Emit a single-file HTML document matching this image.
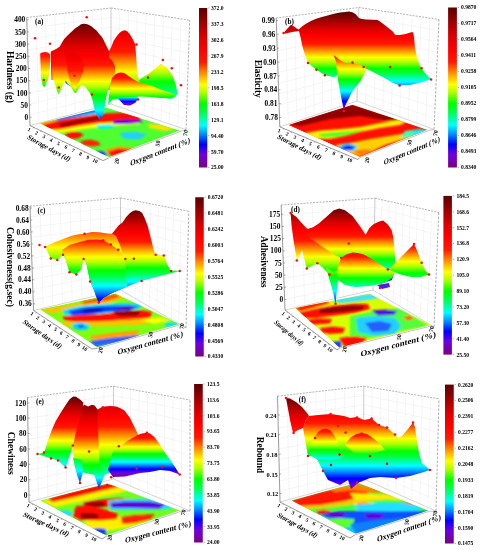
<!DOCTYPE html>
<html><head><meta charset="utf-8"><style>html,body{margin:0;padding:0;background:#fff;width:480px;height:550px;overflow:hidden}svg{display:block}</style></head>
<body><svg width="480" height="550" viewBox="0 0 480 550" style="font-family:'Liberation Serif','Times New Roman',serif;font-weight:bold">
<defs><filter id="blur" x="-20%" y="-20%" width="140%" height="140%"><feGaussianBlur stdDeviation="0.9"/></filter><clipPath id="ca"><polygon points="39.7,123.3 108.8,157.2 180.0,130.5 106.0,107.5"/></clipPath><linearGradient id="g1" gradientUnits="userSpaceOnUse" x1="0" y1="20.0" x2="0" y2="110.0"><stop offset="0.000" stop-color="#5a0000"/><stop offset="0.080" stop-color="#960000"/><stop offset="0.180" stop-color="#dc0000"/><stop offset="0.260" stop-color="#ff0000"/><stop offset="0.340" stop-color="#ff1a00"/><stop offset="0.400" stop-color="#ff8000"/><stop offset="0.445" stop-color="#ffc800"/><stop offset="0.480" stop-color="#ffff00"/><stop offset="0.530" stop-color="#b0ff00"/><stop offset="0.600" stop-color="#00ff00"/><stop offset="0.650" stop-color="#00ff40"/><stop offset="0.700" stop-color="#00ffb0"/><stop offset="0.735" stop-color="#00ffff"/><stop offset="0.790" stop-color="#0090ff"/><stop offset="0.825" stop-color="#0040ff"/><stop offset="0.855" stop-color="#0000ff"/><stop offset="0.920" stop-color="#7000e0"/><stop offset="1.000" stop-color="#7a0080"/></linearGradient><linearGradient id="g2" gradientUnits="userSpaceOnUse" x1="0" y1="5.6" x2="0" y2="132.5"><stop offset="0.000" stop-color="#5a0000"/><stop offset="0.080" stop-color="#960000"/><stop offset="0.180" stop-color="#dc0000"/><stop offset="0.260" stop-color="#ff0000"/><stop offset="0.340" stop-color="#ff1a00"/><stop offset="0.400" stop-color="#ff8000"/><stop offset="0.445" stop-color="#ffc800"/><stop offset="0.480" stop-color="#ffff00"/><stop offset="0.530" stop-color="#b0ff00"/><stop offset="0.600" stop-color="#00ff00"/><stop offset="0.650" stop-color="#00ff40"/><stop offset="0.700" stop-color="#00ffb0"/><stop offset="0.735" stop-color="#00ffff"/><stop offset="0.790" stop-color="#0090ff"/><stop offset="0.825" stop-color="#0040ff"/><stop offset="0.855" stop-color="#0000ff"/><stop offset="0.920" stop-color="#7000e0"/><stop offset="1.000" stop-color="#7a0080"/></linearGradient><linearGradient id="g3" gradientUnits="userSpaceOnUse" x1="0" y1="3.4" x2="0" y2="146.3"><stop offset="0.000" stop-color="#5a0000"/><stop offset="0.080" stop-color="#960000"/><stop offset="0.180" stop-color="#dc0000"/><stop offset="0.260" stop-color="#ff0000"/><stop offset="0.340" stop-color="#ff1a00"/><stop offset="0.400" stop-color="#ff8000"/><stop offset="0.445" stop-color="#ffc800"/><stop offset="0.480" stop-color="#ffff00"/><stop offset="0.530" stop-color="#b0ff00"/><stop offset="0.600" stop-color="#00ff00"/><stop offset="0.650" stop-color="#00ff40"/><stop offset="0.700" stop-color="#00ffb0"/><stop offset="0.735" stop-color="#00ffff"/><stop offset="0.790" stop-color="#0090ff"/><stop offset="0.825" stop-color="#0040ff"/><stop offset="0.855" stop-color="#0000ff"/><stop offset="0.920" stop-color="#7000e0"/><stop offset="1.000" stop-color="#7a0080"/></linearGradient><linearGradient id="g4" gradientUnits="userSpaceOnUse" x1="0" y1="21.3" x2="0" y2="156.1"><stop offset="0.000" stop-color="#5a0000"/><stop offset="0.080" stop-color="#960000"/><stop offset="0.180" stop-color="#dc0000"/><stop offset="0.260" stop-color="#ff0000"/><stop offset="0.340" stop-color="#ff1a00"/><stop offset="0.400" stop-color="#ff8000"/><stop offset="0.445" stop-color="#ffc800"/><stop offset="0.480" stop-color="#ffff00"/><stop offset="0.530" stop-color="#b0ff00"/><stop offset="0.600" stop-color="#00ff00"/><stop offset="0.650" stop-color="#00ff40"/><stop offset="0.700" stop-color="#00ffb0"/><stop offset="0.735" stop-color="#00ffff"/><stop offset="0.790" stop-color="#0090ff"/><stop offset="0.825" stop-color="#0040ff"/><stop offset="0.855" stop-color="#0000ff"/><stop offset="0.920" stop-color="#7000e0"/><stop offset="1.000" stop-color="#7a0080"/></linearGradient><linearGradient id="g5" gradientUnits="userSpaceOnUse" x1="0" y1="69.7" x2="0" y2="106.9"><stop offset="0.000" stop-color="#5a0000"/><stop offset="0.080" stop-color="#960000"/><stop offset="0.180" stop-color="#dc0000"/><stop offset="0.260" stop-color="#ff0000"/><stop offset="0.340" stop-color="#ff1a00"/><stop offset="0.400" stop-color="#ff8000"/><stop offset="0.445" stop-color="#ffc800"/><stop offset="0.480" stop-color="#ffff00"/><stop offset="0.530" stop-color="#b0ff00"/><stop offset="0.600" stop-color="#00ff00"/><stop offset="0.650" stop-color="#00ff40"/><stop offset="0.700" stop-color="#00ffb0"/><stop offset="0.735" stop-color="#00ffff"/><stop offset="0.790" stop-color="#0090ff"/><stop offset="0.825" stop-color="#0040ff"/><stop offset="0.855" stop-color="#0000ff"/><stop offset="0.920" stop-color="#7000e0"/><stop offset="1.000" stop-color="#7a0080"/></linearGradient><linearGradient id="g6" gradientUnits="userSpaceOnUse" x1="0" y1="18.0" x2="0" y2="131.3"><stop offset="0.000" stop-color="#5a0000"/><stop offset="0.080" stop-color="#960000"/><stop offset="0.180" stop-color="#dc0000"/><stop offset="0.260" stop-color="#ff0000"/><stop offset="0.340" stop-color="#ff1a00"/><stop offset="0.400" stop-color="#ff8000"/><stop offset="0.445" stop-color="#ffc800"/><stop offset="0.480" stop-color="#ffff00"/><stop offset="0.530" stop-color="#b0ff00"/><stop offset="0.600" stop-color="#00ff00"/><stop offset="0.650" stop-color="#00ff40"/><stop offset="0.700" stop-color="#00ffb0"/><stop offset="0.735" stop-color="#00ffff"/><stop offset="0.790" stop-color="#0090ff"/><stop offset="0.825" stop-color="#0040ff"/><stop offset="0.855" stop-color="#0000ff"/><stop offset="0.920" stop-color="#7000e0"/><stop offset="1.000" stop-color="#7a0080"/></linearGradient><linearGradient id="g7" gradientUnits="userSpaceOnUse" x1="0" y1="26.5" x2="0" y2="140.5"><stop offset="0.000" stop-color="#5a0000"/><stop offset="0.080" stop-color="#960000"/><stop offset="0.180" stop-color="#dc0000"/><stop offset="0.260" stop-color="#ff0000"/><stop offset="0.340" stop-color="#ff1a00"/><stop offset="0.400" stop-color="#ff8000"/><stop offset="0.445" stop-color="#ffc800"/><stop offset="0.480" stop-color="#ffff00"/><stop offset="0.530" stop-color="#b0ff00"/><stop offset="0.600" stop-color="#00ff00"/><stop offset="0.650" stop-color="#00ff40"/><stop offset="0.700" stop-color="#00ffb0"/><stop offset="0.735" stop-color="#00ffff"/><stop offset="0.790" stop-color="#0090ff"/><stop offset="0.825" stop-color="#0040ff"/><stop offset="0.855" stop-color="#0000ff"/><stop offset="0.920" stop-color="#7000e0"/><stop offset="1.000" stop-color="#7a0080"/></linearGradient><linearGradient id="g8" gradientUnits="userSpaceOnUse" x1="0" y1="30.0" x2="0" y2="150.0"><stop offset="0.000" stop-color="#5a0000"/><stop offset="0.080" stop-color="#960000"/><stop offset="0.180" stop-color="#dc0000"/><stop offset="0.260" stop-color="#ff0000"/><stop offset="0.340" stop-color="#ff1a00"/><stop offset="0.400" stop-color="#ff8000"/><stop offset="0.445" stop-color="#ffc800"/><stop offset="0.480" stop-color="#ffff00"/><stop offset="0.530" stop-color="#b0ff00"/><stop offset="0.600" stop-color="#00ff00"/><stop offset="0.650" stop-color="#00ff40"/><stop offset="0.700" stop-color="#00ffb0"/><stop offset="0.735" stop-color="#00ffff"/><stop offset="0.790" stop-color="#0090ff"/><stop offset="0.825" stop-color="#0040ff"/><stop offset="0.855" stop-color="#0000ff"/><stop offset="0.920" stop-color="#7000e0"/><stop offset="1.000" stop-color="#7a0080"/></linearGradient><linearGradient id="g9" gradientUnits="userSpaceOnUse" x1="0" y1="53.7" x2="0" y2="126.1"><stop offset="0.000" stop-color="#5a0000"/><stop offset="0.080" stop-color="#960000"/><stop offset="0.180" stop-color="#dc0000"/><stop offset="0.260" stop-color="#ff0000"/><stop offset="0.340" stop-color="#ff1a00"/><stop offset="0.400" stop-color="#ff8000"/><stop offset="0.445" stop-color="#ffc800"/><stop offset="0.480" stop-color="#ffff00"/><stop offset="0.530" stop-color="#b0ff00"/><stop offset="0.600" stop-color="#00ff00"/><stop offset="0.650" stop-color="#00ff40"/><stop offset="0.700" stop-color="#00ffb0"/><stop offset="0.735" stop-color="#00ffff"/><stop offset="0.790" stop-color="#0090ff"/><stop offset="0.825" stop-color="#0040ff"/><stop offset="0.855" stop-color="#0000ff"/><stop offset="0.920" stop-color="#7000e0"/><stop offset="1.000" stop-color="#7a0080"/></linearGradient><linearGradient id="g10" gradientUnits="userSpaceOnUse" x1="0" y1="8.0" x2="0" y2="167.5"><stop offset="0.000" stop-color="#5a0000"/><stop offset="0.080" stop-color="#960000"/><stop offset="0.180" stop-color="#dc0000"/><stop offset="0.260" stop-color="#ff0000"/><stop offset="0.340" stop-color="#ff1a00"/><stop offset="0.400" stop-color="#ff8000"/><stop offset="0.445" stop-color="#ffc800"/><stop offset="0.480" stop-color="#ffff00"/><stop offset="0.530" stop-color="#b0ff00"/><stop offset="0.600" stop-color="#00ff00"/><stop offset="0.650" stop-color="#00ff40"/><stop offset="0.700" stop-color="#00ffb0"/><stop offset="0.735" stop-color="#00ffff"/><stop offset="0.790" stop-color="#0090ff"/><stop offset="0.825" stop-color="#0040ff"/><stop offset="0.855" stop-color="#0000ff"/><stop offset="0.920" stop-color="#7000e0"/><stop offset="1.000" stop-color="#7a0080"/></linearGradient><clipPath id="cb"><polygon points="288.1,125.0 359.8,156.9 427.5,129.8 352.5,104.8"/></clipPath><linearGradient id="g11" gradientUnits="userSpaceOnUse" x1="0" y1="20.0" x2="0" y2="110.0"><stop offset="0.000" stop-color="#5a0000"/><stop offset="0.080" stop-color="#960000"/><stop offset="0.180" stop-color="#dc0000"/><stop offset="0.260" stop-color="#ff0000"/><stop offset="0.340" stop-color="#ff1a00"/><stop offset="0.400" stop-color="#ff8000"/><stop offset="0.445" stop-color="#ffc800"/><stop offset="0.480" stop-color="#ffff00"/><stop offset="0.530" stop-color="#b0ff00"/><stop offset="0.600" stop-color="#00ff00"/><stop offset="0.650" stop-color="#00ff40"/><stop offset="0.700" stop-color="#00ffb0"/><stop offset="0.735" stop-color="#00ffff"/><stop offset="0.790" stop-color="#0090ff"/><stop offset="0.825" stop-color="#0040ff"/><stop offset="0.855" stop-color="#0000ff"/><stop offset="0.920" stop-color="#7000e0"/><stop offset="1.000" stop-color="#7a0080"/></linearGradient><linearGradient id="g12" gradientUnits="userSpaceOnUse" x1="0" y1="12.0" x2="0" y2="106.4"><stop offset="0.000" stop-color="#5a0000"/><stop offset="0.080" stop-color="#960000"/><stop offset="0.180" stop-color="#dc0000"/><stop offset="0.260" stop-color="#ff0000"/><stop offset="0.340" stop-color="#ff1a00"/><stop offset="0.400" stop-color="#ff8000"/><stop offset="0.445" stop-color="#ffc800"/><stop offset="0.480" stop-color="#ffff00"/><stop offset="0.530" stop-color="#b0ff00"/><stop offset="0.600" stop-color="#00ff00"/><stop offset="0.650" stop-color="#00ff40"/><stop offset="0.700" stop-color="#00ffb0"/><stop offset="0.735" stop-color="#00ffff"/><stop offset="0.790" stop-color="#0090ff"/><stop offset="0.825" stop-color="#0040ff"/><stop offset="0.855" stop-color="#0000ff"/><stop offset="0.920" stop-color="#7000e0"/><stop offset="1.000" stop-color="#7a0080"/></linearGradient><linearGradient id="g13" gradientUnits="userSpaceOnUse" x1="0" y1="12.0" x2="0" y2="125.0"><stop offset="0.000" stop-color="#5a0000"/><stop offset="0.080" stop-color="#960000"/><stop offset="0.180" stop-color="#dc0000"/><stop offset="0.260" stop-color="#ff0000"/><stop offset="0.340" stop-color="#ff1a00"/><stop offset="0.400" stop-color="#ff8000"/><stop offset="0.445" stop-color="#ffc800"/><stop offset="0.480" stop-color="#ffff00"/><stop offset="0.530" stop-color="#b0ff00"/><stop offset="0.600" stop-color="#00ff00"/><stop offset="0.650" stop-color="#00ff40"/><stop offset="0.700" stop-color="#00ffb0"/><stop offset="0.735" stop-color="#00ffff"/><stop offset="0.790" stop-color="#0090ff"/><stop offset="0.825" stop-color="#0040ff"/><stop offset="0.855" stop-color="#0000ff"/><stop offset="0.920" stop-color="#7000e0"/><stop offset="1.000" stop-color="#7a0080"/></linearGradient><linearGradient id="g14" gradientUnits="userSpaceOnUse" x1="0" y1="27.3" x2="0" y2="114.1"><stop offset="0.000" stop-color="#5a0000"/><stop offset="0.080" stop-color="#960000"/><stop offset="0.180" stop-color="#dc0000"/><stop offset="0.260" stop-color="#ff0000"/><stop offset="0.340" stop-color="#ff1a00"/><stop offset="0.400" stop-color="#ff8000"/><stop offset="0.445" stop-color="#ffc800"/><stop offset="0.480" stop-color="#ffff00"/><stop offset="0.530" stop-color="#b0ff00"/><stop offset="0.600" stop-color="#00ff00"/><stop offset="0.650" stop-color="#00ff40"/><stop offset="0.700" stop-color="#00ffb0"/><stop offset="0.735" stop-color="#00ffff"/><stop offset="0.790" stop-color="#0090ff"/><stop offset="0.825" stop-color="#0040ff"/><stop offset="0.855" stop-color="#0000ff"/><stop offset="0.920" stop-color="#7000e0"/><stop offset="1.000" stop-color="#7a0080"/></linearGradient><linearGradient id="g15" gradientUnits="userSpaceOnUse" x1="0" y1="7.5" x2="0" y2="167.5"><stop offset="0.000" stop-color="#5a0000"/><stop offset="0.080" stop-color="#960000"/><stop offset="0.180" stop-color="#dc0000"/><stop offset="0.260" stop-color="#ff0000"/><stop offset="0.340" stop-color="#ff1a00"/><stop offset="0.400" stop-color="#ff8000"/><stop offset="0.445" stop-color="#ffc800"/><stop offset="0.480" stop-color="#ffff00"/><stop offset="0.530" stop-color="#b0ff00"/><stop offset="0.600" stop-color="#00ff00"/><stop offset="0.650" stop-color="#00ff40"/><stop offset="0.700" stop-color="#00ffb0"/><stop offset="0.735" stop-color="#00ffff"/><stop offset="0.790" stop-color="#0090ff"/><stop offset="0.825" stop-color="#0040ff"/><stop offset="0.855" stop-color="#0000ff"/><stop offset="0.920" stop-color="#7000e0"/><stop offset="1.000" stop-color="#7a0080"/></linearGradient><clipPath id="cc"><polygon points="40.0,309.5 97.5,347.5 179.4,324.0 115.5,293.6"/></clipPath><linearGradient id="g16" gradientUnits="userSpaceOnUse" x1="0" y1="20.0" x2="0" y2="110.0"><stop offset="0.000" stop-color="#5a0000"/><stop offset="0.080" stop-color="#960000"/><stop offset="0.180" stop-color="#dc0000"/><stop offset="0.260" stop-color="#ff0000"/><stop offset="0.340" stop-color="#ff1a00"/><stop offset="0.400" stop-color="#ff8000"/><stop offset="0.445" stop-color="#ffc800"/><stop offset="0.480" stop-color="#ffff00"/><stop offset="0.530" stop-color="#b0ff00"/><stop offset="0.600" stop-color="#00ff00"/><stop offset="0.650" stop-color="#00ff40"/><stop offset="0.700" stop-color="#00ffb0"/><stop offset="0.735" stop-color="#00ffff"/><stop offset="0.790" stop-color="#0090ff"/><stop offset="0.825" stop-color="#0040ff"/><stop offset="0.855" stop-color="#0000ff"/><stop offset="0.920" stop-color="#7000e0"/><stop offset="1.000" stop-color="#7a0080"/></linearGradient><linearGradient id="g17" gradientUnits="userSpaceOnUse" x1="0" y1="208.0" x2="0" y2="308.0"><stop offset="0.000" stop-color="#5a0000"/><stop offset="0.080" stop-color="#960000"/><stop offset="0.180" stop-color="#dc0000"/><stop offset="0.260" stop-color="#ff0000"/><stop offset="0.340" stop-color="#ff1a00"/><stop offset="0.400" stop-color="#ff8000"/><stop offset="0.445" stop-color="#ffc800"/><stop offset="0.480" stop-color="#ffff00"/><stop offset="0.530" stop-color="#b0ff00"/><stop offset="0.600" stop-color="#00ff00"/><stop offset="0.650" stop-color="#00ff40"/><stop offset="0.700" stop-color="#00ffb0"/><stop offset="0.735" stop-color="#00ffff"/><stop offset="0.790" stop-color="#0090ff"/><stop offset="0.825" stop-color="#0040ff"/><stop offset="0.855" stop-color="#0000ff"/><stop offset="0.920" stop-color="#7000e0"/><stop offset="1.000" stop-color="#7a0080"/></linearGradient><linearGradient id="g18" gradientUnits="userSpaceOnUse" x1="0" y1="178.8" x2="0" y2="321.4"><stop offset="0.000" stop-color="#5a0000"/><stop offset="0.080" stop-color="#960000"/><stop offset="0.180" stop-color="#dc0000"/><stop offset="0.260" stop-color="#ff0000"/><stop offset="0.340" stop-color="#ff1a00"/><stop offset="0.400" stop-color="#ff8000"/><stop offset="0.445" stop-color="#ffc800"/><stop offset="0.480" stop-color="#ffff00"/><stop offset="0.530" stop-color="#b0ff00"/><stop offset="0.600" stop-color="#00ff00"/><stop offset="0.650" stop-color="#00ff40"/><stop offset="0.700" stop-color="#00ffb0"/><stop offset="0.735" stop-color="#00ffff"/><stop offset="0.790" stop-color="#0090ff"/><stop offset="0.825" stop-color="#0040ff"/><stop offset="0.855" stop-color="#0000ff"/><stop offset="0.920" stop-color="#7000e0"/><stop offset="1.000" stop-color="#7a0080"/></linearGradient><linearGradient id="g19" gradientUnits="userSpaceOnUse" x1="0" y1="202.6" x2="0" y2="315.8"><stop offset="0.000" stop-color="#5a0000"/><stop offset="0.080" stop-color="#960000"/><stop offset="0.180" stop-color="#dc0000"/><stop offset="0.260" stop-color="#ff0000"/><stop offset="0.340" stop-color="#ff1a00"/><stop offset="0.400" stop-color="#ff8000"/><stop offset="0.445" stop-color="#ffc800"/><stop offset="0.480" stop-color="#ffff00"/><stop offset="0.530" stop-color="#b0ff00"/><stop offset="0.600" stop-color="#00ff00"/><stop offset="0.650" stop-color="#00ff40"/><stop offset="0.700" stop-color="#00ffb0"/><stop offset="0.735" stop-color="#00ffff"/><stop offset="0.790" stop-color="#0090ff"/><stop offset="0.825" stop-color="#0040ff"/><stop offset="0.855" stop-color="#0000ff"/><stop offset="0.920" stop-color="#7000e0"/><stop offset="1.000" stop-color="#7a0080"/></linearGradient><linearGradient id="g20" gradientUnits="userSpaceOnUse" x1="0" y1="197.2" x2="0" y2="356.5"><stop offset="0.000" stop-color="#5a0000"/><stop offset="0.080" stop-color="#960000"/><stop offset="0.180" stop-color="#dc0000"/><stop offset="0.260" stop-color="#ff0000"/><stop offset="0.340" stop-color="#ff1a00"/><stop offset="0.400" stop-color="#ff8000"/><stop offset="0.445" stop-color="#ffc800"/><stop offset="0.480" stop-color="#ffff00"/><stop offset="0.530" stop-color="#b0ff00"/><stop offset="0.600" stop-color="#00ff00"/><stop offset="0.650" stop-color="#00ff40"/><stop offset="0.700" stop-color="#00ffb0"/><stop offset="0.735" stop-color="#00ffff"/><stop offset="0.790" stop-color="#0090ff"/><stop offset="0.825" stop-color="#0040ff"/><stop offset="0.855" stop-color="#0000ff"/><stop offset="0.920" stop-color="#7000e0"/><stop offset="1.000" stop-color="#7a0080"/></linearGradient><clipPath id="cd"><polygon points="295.0,308.0 339.4,347.5 431.0,325.0 369.2,293.6"/></clipPath><linearGradient id="g21" gradientUnits="userSpaceOnUse" x1="0" y1="20.0" x2="0" y2="110.0"><stop offset="0.000" stop-color="#5a0000"/><stop offset="0.080" stop-color="#960000"/><stop offset="0.180" stop-color="#dc0000"/><stop offset="0.260" stop-color="#ff0000"/><stop offset="0.340" stop-color="#ff1a00"/><stop offset="0.400" stop-color="#ff8000"/><stop offset="0.445" stop-color="#ffc800"/><stop offset="0.480" stop-color="#ffff00"/><stop offset="0.530" stop-color="#b0ff00"/><stop offset="0.600" stop-color="#00ff00"/><stop offset="0.650" stop-color="#00ff40"/><stop offset="0.700" stop-color="#00ffb0"/><stop offset="0.735" stop-color="#00ffff"/><stop offset="0.790" stop-color="#0090ff"/><stop offset="0.825" stop-color="#0040ff"/><stop offset="0.855" stop-color="#0000ff"/><stop offset="0.920" stop-color="#7000e0"/><stop offset="1.000" stop-color="#7a0080"/></linearGradient><linearGradient id="g22" gradientUnits="userSpaceOnUse" x1="0" y1="207.3" x2="0" y2="293.6"><stop offset="0.000" stop-color="#5a0000"/><stop offset="0.080" stop-color="#960000"/><stop offset="0.180" stop-color="#dc0000"/><stop offset="0.260" stop-color="#ff0000"/><stop offset="0.340" stop-color="#ff1a00"/><stop offset="0.400" stop-color="#ff8000"/><stop offset="0.445" stop-color="#ffc800"/><stop offset="0.480" stop-color="#ffff00"/><stop offset="0.530" stop-color="#b0ff00"/><stop offset="0.600" stop-color="#00ff00"/><stop offset="0.650" stop-color="#00ff40"/><stop offset="0.700" stop-color="#00ffb0"/><stop offset="0.735" stop-color="#00ffff"/><stop offset="0.790" stop-color="#0090ff"/><stop offset="0.825" stop-color="#0040ff"/><stop offset="0.855" stop-color="#0000ff"/><stop offset="0.920" stop-color="#7000e0"/><stop offset="1.000" stop-color="#7a0080"/></linearGradient><linearGradient id="g23" gradientUnits="userSpaceOnUse" x1="0" y1="214.9" x2="0" y2="311.8"><stop offset="0.000" stop-color="#5a0000"/><stop offset="0.080" stop-color="#960000"/><stop offset="0.180" stop-color="#dc0000"/><stop offset="0.260" stop-color="#ff0000"/><stop offset="0.340" stop-color="#ff1a00"/><stop offset="0.400" stop-color="#ff8000"/><stop offset="0.445" stop-color="#ffc800"/><stop offset="0.480" stop-color="#ffff00"/><stop offset="0.530" stop-color="#b0ff00"/><stop offset="0.600" stop-color="#00ff00"/><stop offset="0.650" stop-color="#00ff40"/><stop offset="0.700" stop-color="#00ffb0"/><stop offset="0.735" stop-color="#00ffff"/><stop offset="0.790" stop-color="#0090ff"/><stop offset="0.825" stop-color="#0040ff"/><stop offset="0.855" stop-color="#0000ff"/><stop offset="0.920" stop-color="#7000e0"/><stop offset="1.000" stop-color="#7a0080"/></linearGradient><linearGradient id="g24" gradientUnits="userSpaceOnUse" x1="0" y1="202.4" x2="0" y2="315.5"><stop offset="0.000" stop-color="#5a0000"/><stop offset="0.080" stop-color="#960000"/><stop offset="0.180" stop-color="#dc0000"/><stop offset="0.260" stop-color="#ff0000"/><stop offset="0.340" stop-color="#ff1a00"/><stop offset="0.400" stop-color="#ff8000"/><stop offset="0.445" stop-color="#ffc800"/><stop offset="0.480" stop-color="#ffff00"/><stop offset="0.530" stop-color="#b0ff00"/><stop offset="0.600" stop-color="#00ff00"/><stop offset="0.650" stop-color="#00ff40"/><stop offset="0.700" stop-color="#00ffb0"/><stop offset="0.735" stop-color="#00ffff"/><stop offset="0.790" stop-color="#0090ff"/><stop offset="0.825" stop-color="#0040ff"/><stop offset="0.855" stop-color="#0000ff"/><stop offset="0.920" stop-color="#7000e0"/><stop offset="1.000" stop-color="#7a0080"/></linearGradient><linearGradient id="g25" gradientUnits="userSpaceOnUse" x1="0" y1="207.4" x2="0" y2="321.2"><stop offset="0.000" stop-color="#5a0000"/><stop offset="0.080" stop-color="#960000"/><stop offset="0.180" stop-color="#dc0000"/><stop offset="0.260" stop-color="#ff0000"/><stop offset="0.340" stop-color="#ff1a00"/><stop offset="0.400" stop-color="#ff8000"/><stop offset="0.445" stop-color="#ffc800"/><stop offset="0.480" stop-color="#ffff00"/><stop offset="0.530" stop-color="#b0ff00"/><stop offset="0.600" stop-color="#00ff00"/><stop offset="0.650" stop-color="#00ff40"/><stop offset="0.700" stop-color="#00ffb0"/><stop offset="0.735" stop-color="#00ffff"/><stop offset="0.790" stop-color="#0090ff"/><stop offset="0.825" stop-color="#0040ff"/><stop offset="0.855" stop-color="#0000ff"/><stop offset="0.920" stop-color="#7000e0"/><stop offset="1.000" stop-color="#7a0080"/></linearGradient><linearGradient id="g26" gradientUnits="userSpaceOnUse" x1="0" y1="229.1" x2="0" y2="310.9"><stop offset="0.000" stop-color="#5a0000"/><stop offset="0.080" stop-color="#960000"/><stop offset="0.180" stop-color="#dc0000"/><stop offset="0.260" stop-color="#ff0000"/><stop offset="0.340" stop-color="#ff1a00"/><stop offset="0.400" stop-color="#ff8000"/><stop offset="0.445" stop-color="#ffc800"/><stop offset="0.480" stop-color="#ffff00"/><stop offset="0.530" stop-color="#b0ff00"/><stop offset="0.600" stop-color="#00ff00"/><stop offset="0.650" stop-color="#00ff40"/><stop offset="0.700" stop-color="#00ffb0"/><stop offset="0.735" stop-color="#00ffff"/><stop offset="0.790" stop-color="#0090ff"/><stop offset="0.825" stop-color="#0040ff"/><stop offset="0.855" stop-color="#0000ff"/><stop offset="0.920" stop-color="#7000e0"/><stop offset="1.000" stop-color="#7a0080"/></linearGradient><linearGradient id="g27" gradientUnits="userSpaceOnUse" x1="0" y1="195.9" x2="0" y2="354.6"><stop offset="0.000" stop-color="#5a0000"/><stop offset="0.080" stop-color="#960000"/><stop offset="0.180" stop-color="#dc0000"/><stop offset="0.260" stop-color="#ff0000"/><stop offset="0.340" stop-color="#ff1a00"/><stop offset="0.400" stop-color="#ff8000"/><stop offset="0.445" stop-color="#ffc800"/><stop offset="0.480" stop-color="#ffff00"/><stop offset="0.530" stop-color="#b0ff00"/><stop offset="0.600" stop-color="#00ff00"/><stop offset="0.650" stop-color="#00ff40"/><stop offset="0.700" stop-color="#00ffb0"/><stop offset="0.735" stop-color="#00ffff"/><stop offset="0.790" stop-color="#0090ff"/><stop offset="0.825" stop-color="#0040ff"/><stop offset="0.855" stop-color="#0000ff"/><stop offset="0.920" stop-color="#7000e0"/><stop offset="1.000" stop-color="#7a0080"/></linearGradient><clipPath id="ce"><polygon points="40.0,500.5 106.2,535.6 180.0,510.5 107.5,483.4"/></clipPath><linearGradient id="g28" gradientUnits="userSpaceOnUse" x1="0" y1="20.0" x2="0" y2="110.0"><stop offset="0.000" stop-color="#5a0000"/><stop offset="0.080" stop-color="#960000"/><stop offset="0.180" stop-color="#dc0000"/><stop offset="0.260" stop-color="#ff0000"/><stop offset="0.340" stop-color="#ff1a00"/><stop offset="0.400" stop-color="#ff8000"/><stop offset="0.445" stop-color="#ffc800"/><stop offset="0.480" stop-color="#ffff00"/><stop offset="0.530" stop-color="#b0ff00"/><stop offset="0.600" stop-color="#00ff00"/><stop offset="0.650" stop-color="#00ff40"/><stop offset="0.700" stop-color="#00ffb0"/><stop offset="0.735" stop-color="#00ffff"/><stop offset="0.790" stop-color="#0090ff"/><stop offset="0.825" stop-color="#0040ff"/><stop offset="0.855" stop-color="#0000ff"/><stop offset="0.920" stop-color="#7000e0"/><stop offset="1.000" stop-color="#7a0080"/></linearGradient><linearGradient id="g29" gradientUnits="userSpaceOnUse" x1="0" y1="382.9" x2="0" y2="511.4"><stop offset="0.000" stop-color="#5a0000"/><stop offset="0.080" stop-color="#960000"/><stop offset="0.180" stop-color="#dc0000"/><stop offset="0.260" stop-color="#ff0000"/><stop offset="0.340" stop-color="#ff1a00"/><stop offset="0.400" stop-color="#ff8000"/><stop offset="0.445" stop-color="#ffc800"/><stop offset="0.480" stop-color="#ffff00"/><stop offset="0.530" stop-color="#b0ff00"/><stop offset="0.600" stop-color="#00ff00"/><stop offset="0.650" stop-color="#00ff40"/><stop offset="0.700" stop-color="#00ffb0"/><stop offset="0.735" stop-color="#00ffff"/><stop offset="0.790" stop-color="#0090ff"/><stop offset="0.825" stop-color="#0040ff"/><stop offset="0.855" stop-color="#0000ff"/><stop offset="0.920" stop-color="#7000e0"/><stop offset="1.000" stop-color="#7a0080"/></linearGradient><linearGradient id="g30" gradientUnits="userSpaceOnUse" x1="0" y1="397.1" x2="0" y2="510.3"><stop offset="0.000" stop-color="#5a0000"/><stop offset="0.080" stop-color="#960000"/><stop offset="0.180" stop-color="#dc0000"/><stop offset="0.260" stop-color="#ff0000"/><stop offset="0.340" stop-color="#ff1a00"/><stop offset="0.400" stop-color="#ff8000"/><stop offset="0.445" stop-color="#ffc800"/><stop offset="0.480" stop-color="#ffff00"/><stop offset="0.530" stop-color="#b0ff00"/><stop offset="0.600" stop-color="#00ff00"/><stop offset="0.650" stop-color="#00ff40"/><stop offset="0.700" stop-color="#00ffb0"/><stop offset="0.735" stop-color="#00ffff"/><stop offset="0.790" stop-color="#0090ff"/><stop offset="0.825" stop-color="#0040ff"/><stop offset="0.855" stop-color="#0000ff"/><stop offset="0.920" stop-color="#7000e0"/><stop offset="1.000" stop-color="#7a0080"/></linearGradient><linearGradient id="g31" gradientUnits="userSpaceOnUse" x1="0" y1="385.0" x2="0" y2="501.7"><stop offset="0.000" stop-color="#5a0000"/><stop offset="0.080" stop-color="#960000"/><stop offset="0.180" stop-color="#dc0000"/><stop offset="0.260" stop-color="#ff0000"/><stop offset="0.340" stop-color="#ff1a00"/><stop offset="0.400" stop-color="#ff8000"/><stop offset="0.445" stop-color="#ffc800"/><stop offset="0.480" stop-color="#ffff00"/><stop offset="0.530" stop-color="#b0ff00"/><stop offset="0.600" stop-color="#00ff00"/><stop offset="0.650" stop-color="#00ff40"/><stop offset="0.700" stop-color="#00ffb0"/><stop offset="0.735" stop-color="#00ffff"/><stop offset="0.790" stop-color="#0090ff"/><stop offset="0.825" stop-color="#0040ff"/><stop offset="0.855" stop-color="#0000ff"/><stop offset="0.920" stop-color="#7000e0"/><stop offset="1.000" stop-color="#7a0080"/></linearGradient><linearGradient id="g32" gradientUnits="userSpaceOnUse" x1="0" y1="407.5" x2="0" y2="503.3"><stop offset="0.000" stop-color="#5a0000"/><stop offset="0.080" stop-color="#960000"/><stop offset="0.180" stop-color="#dc0000"/><stop offset="0.260" stop-color="#ff0000"/><stop offset="0.340" stop-color="#ff1a00"/><stop offset="0.400" stop-color="#ff8000"/><stop offset="0.445" stop-color="#ffc800"/><stop offset="0.480" stop-color="#ffff00"/><stop offset="0.530" stop-color="#b0ff00"/><stop offset="0.600" stop-color="#00ff00"/><stop offset="0.650" stop-color="#00ff40"/><stop offset="0.700" stop-color="#00ffb0"/><stop offset="0.735" stop-color="#00ffff"/><stop offset="0.790" stop-color="#0090ff"/><stop offset="0.825" stop-color="#0040ff"/><stop offset="0.855" stop-color="#0000ff"/><stop offset="0.920" stop-color="#7000e0"/><stop offset="1.000" stop-color="#7a0080"/></linearGradient><linearGradient id="g33" gradientUnits="userSpaceOnUse" x1="0" y1="418.1" x2="0" y2="477.7"><stop offset="0.000" stop-color="#5a0000"/><stop offset="0.080" stop-color="#960000"/><stop offset="0.180" stop-color="#dc0000"/><stop offset="0.260" stop-color="#ff0000"/><stop offset="0.340" stop-color="#ff1a00"/><stop offset="0.400" stop-color="#ff8000"/><stop offset="0.445" stop-color="#ffc800"/><stop offset="0.480" stop-color="#ffff00"/><stop offset="0.530" stop-color="#b0ff00"/><stop offset="0.600" stop-color="#00ff00"/><stop offset="0.650" stop-color="#00ff40"/><stop offset="0.700" stop-color="#00ffb0"/><stop offset="0.735" stop-color="#00ffff"/><stop offset="0.790" stop-color="#0090ff"/><stop offset="0.825" stop-color="#0040ff"/><stop offset="0.855" stop-color="#0000ff"/><stop offset="0.920" stop-color="#7000e0"/><stop offset="1.000" stop-color="#7a0080"/></linearGradient><linearGradient id="g34" gradientUnits="userSpaceOnUse" x1="0" y1="396.2" x2="0" y2="488.4"><stop offset="0.000" stop-color="#5a0000"/><stop offset="0.080" stop-color="#960000"/><stop offset="0.180" stop-color="#dc0000"/><stop offset="0.260" stop-color="#ff0000"/><stop offset="0.340" stop-color="#ff1a00"/><stop offset="0.400" stop-color="#ff8000"/><stop offset="0.445" stop-color="#ffc800"/><stop offset="0.480" stop-color="#ffff00"/><stop offset="0.530" stop-color="#b0ff00"/><stop offset="0.600" stop-color="#00ff00"/><stop offset="0.650" stop-color="#00ff40"/><stop offset="0.700" stop-color="#00ffb0"/><stop offset="0.735" stop-color="#00ffff"/><stop offset="0.790" stop-color="#0090ff"/><stop offset="0.825" stop-color="#0040ff"/><stop offset="0.855" stop-color="#0000ff"/><stop offset="0.920" stop-color="#7000e0"/><stop offset="1.000" stop-color="#7a0080"/></linearGradient><linearGradient id="g35" gradientUnits="userSpaceOnUse" x1="0" y1="384.0" x2="0" y2="542.5"><stop offset="0.000" stop-color="#5a0000"/><stop offset="0.080" stop-color="#960000"/><stop offset="0.180" stop-color="#dc0000"/><stop offset="0.260" stop-color="#ff0000"/><stop offset="0.340" stop-color="#ff1a00"/><stop offset="0.400" stop-color="#ff8000"/><stop offset="0.445" stop-color="#ffc800"/><stop offset="0.480" stop-color="#ffff00"/><stop offset="0.530" stop-color="#b0ff00"/><stop offset="0.600" stop-color="#00ff00"/><stop offset="0.650" stop-color="#00ff40"/><stop offset="0.700" stop-color="#00ffb0"/><stop offset="0.735" stop-color="#00ffff"/><stop offset="0.790" stop-color="#0090ff"/><stop offset="0.825" stop-color="#0040ff"/><stop offset="0.855" stop-color="#0000ff"/><stop offset="0.920" stop-color="#7000e0"/><stop offset="1.000" stop-color="#7a0080"/></linearGradient><clipPath id="cf"><polygon points="291.3,500.5 355.6,533.8 428.5,510.5 357.5,482.5"/></clipPath><linearGradient id="g36" gradientUnits="userSpaceOnUse" x1="0" y1="20.0" x2="0" y2="110.0"><stop offset="0.000" stop-color="#5a0000"/><stop offset="0.080" stop-color="#960000"/><stop offset="0.180" stop-color="#dc0000"/><stop offset="0.260" stop-color="#ff0000"/><stop offset="0.340" stop-color="#ff1a00"/><stop offset="0.400" stop-color="#ff8000"/><stop offset="0.445" stop-color="#ffc800"/><stop offset="0.480" stop-color="#ffff00"/><stop offset="0.530" stop-color="#b0ff00"/><stop offset="0.600" stop-color="#00ff00"/><stop offset="0.650" stop-color="#00ff40"/><stop offset="0.700" stop-color="#00ffb0"/><stop offset="0.735" stop-color="#00ffff"/><stop offset="0.790" stop-color="#0090ff"/><stop offset="0.825" stop-color="#0040ff"/><stop offset="0.855" stop-color="#0000ff"/><stop offset="0.920" stop-color="#7000e0"/><stop offset="1.000" stop-color="#7a0080"/></linearGradient><linearGradient id="g37" gradientUnits="userSpaceOnUse" x1="0" y1="387.2" x2="0" y2="494.0"><stop offset="0.000" stop-color="#5a0000"/><stop offset="0.080" stop-color="#960000"/><stop offset="0.180" stop-color="#dc0000"/><stop offset="0.260" stop-color="#ff0000"/><stop offset="0.340" stop-color="#ff1a00"/><stop offset="0.400" stop-color="#ff8000"/><stop offset="0.445" stop-color="#ffc800"/><stop offset="0.480" stop-color="#ffff00"/><stop offset="0.530" stop-color="#b0ff00"/><stop offset="0.600" stop-color="#00ff00"/><stop offset="0.650" stop-color="#00ff40"/><stop offset="0.700" stop-color="#00ffb0"/><stop offset="0.735" stop-color="#00ffff"/><stop offset="0.790" stop-color="#0090ff"/><stop offset="0.825" stop-color="#0040ff"/><stop offset="0.855" stop-color="#0000ff"/><stop offset="0.920" stop-color="#7000e0"/><stop offset="1.000" stop-color="#7a0080"/></linearGradient><linearGradient id="g38" gradientUnits="userSpaceOnUse" x1="0" y1="395.9" x2="0" y2="501.9"><stop offset="0.000" stop-color="#5a0000"/><stop offset="0.080" stop-color="#960000"/><stop offset="0.180" stop-color="#dc0000"/><stop offset="0.260" stop-color="#ff0000"/><stop offset="0.340" stop-color="#ff1a00"/><stop offset="0.400" stop-color="#ff8000"/><stop offset="0.445" stop-color="#ffc800"/><stop offset="0.480" stop-color="#ffff00"/><stop offset="0.530" stop-color="#b0ff00"/><stop offset="0.600" stop-color="#00ff00"/><stop offset="0.650" stop-color="#00ff40"/><stop offset="0.700" stop-color="#00ffb0"/><stop offset="0.735" stop-color="#00ffff"/><stop offset="0.790" stop-color="#0090ff"/><stop offset="0.825" stop-color="#0040ff"/><stop offset="0.855" stop-color="#0000ff"/><stop offset="0.920" stop-color="#7000e0"/><stop offset="1.000" stop-color="#7a0080"/></linearGradient><linearGradient id="g39" gradientUnits="userSpaceOnUse" x1="0" y1="408.9" x2="0" y2="477.1"><stop offset="0.000" stop-color="#5a0000"/><stop offset="0.080" stop-color="#960000"/><stop offset="0.180" stop-color="#dc0000"/><stop offset="0.260" stop-color="#ff0000"/><stop offset="0.340" stop-color="#ff1a00"/><stop offset="0.400" stop-color="#ff8000"/><stop offset="0.445" stop-color="#ffc800"/><stop offset="0.480" stop-color="#ffff00"/><stop offset="0.530" stop-color="#b0ff00"/><stop offset="0.600" stop-color="#00ff00"/><stop offset="0.650" stop-color="#00ff40"/><stop offset="0.700" stop-color="#00ffb0"/><stop offset="0.735" stop-color="#00ffff"/><stop offset="0.790" stop-color="#0090ff"/><stop offset="0.825" stop-color="#0040ff"/><stop offset="0.855" stop-color="#0000ff"/><stop offset="0.920" stop-color="#7000e0"/><stop offset="1.000" stop-color="#7a0080"/></linearGradient><linearGradient id="g40" gradientUnits="userSpaceOnUse" x1="0" y1="411.7" x2="0" y2="482.7"><stop offset="0.000" stop-color="#5a0000"/><stop offset="0.080" stop-color="#960000"/><stop offset="0.180" stop-color="#dc0000"/><stop offset="0.260" stop-color="#ff0000"/><stop offset="0.340" stop-color="#ff1a00"/><stop offset="0.400" stop-color="#ff8000"/><stop offset="0.445" stop-color="#ffc800"/><stop offset="0.480" stop-color="#ffff00"/><stop offset="0.530" stop-color="#b0ff00"/><stop offset="0.600" stop-color="#00ff00"/><stop offset="0.650" stop-color="#00ff40"/><stop offset="0.700" stop-color="#00ffb0"/><stop offset="0.735" stop-color="#00ffff"/><stop offset="0.790" stop-color="#0090ff"/><stop offset="0.825" stop-color="#0040ff"/><stop offset="0.855" stop-color="#0000ff"/><stop offset="0.920" stop-color="#7000e0"/><stop offset="1.000" stop-color="#7a0080"/></linearGradient><linearGradient id="g41" gradientUnits="userSpaceOnUse" x1="0" y1="384.6" x2="0" y2="543.5"><stop offset="0.000" stop-color="#5a0000"/><stop offset="0.080" stop-color="#960000"/><stop offset="0.180" stop-color="#dc0000"/><stop offset="0.260" stop-color="#ff0000"/><stop offset="0.340" stop-color="#ff1a00"/><stop offset="0.400" stop-color="#ff8000"/><stop offset="0.445" stop-color="#ffc800"/><stop offset="0.480" stop-color="#ffff00"/><stop offset="0.530" stop-color="#b0ff00"/><stop offset="0.600" stop-color="#00ff00"/><stop offset="0.650" stop-color="#00ff40"/><stop offset="0.700" stop-color="#00ffb0"/><stop offset="0.735" stop-color="#00ffff"/><stop offset="0.790" stop-color="#0090ff"/><stop offset="0.825" stop-color="#0040ff"/><stop offset="0.855" stop-color="#0000ff"/><stop offset="0.920" stop-color="#7000e0"/><stop offset="1.000" stop-color="#7a0080"/></linearGradient></defs>
<rect width="480" height="550" fill="#fff"/>
<line x1="39.0" y1="123.2" x2="36.1" y2="16.4" stroke="#e8e8e8" stroke-width="0.45"/>
<line x1="119.3" y1="106.9" x2="119.7" y2="9.4" stroke="#e8e8e8" stroke-width="0.45"/>
<line x1="48.0" y1="120.8" x2="45.4" y2="15.4" stroke="#e8e8e8" stroke-width="0.45"/>
<line x1="127.7" y1="109.7" x2="128.5" y2="10.7" stroke="#e8e8e8" stroke-width="0.45"/>
<line x1="57.0" y1="118.4" x2="54.8" y2="14.3" stroke="#e8e8e8" stroke-width="0.45"/>
<line x1="136.0" y1="112.6" x2="137.2" y2="12.1" stroke="#e8e8e8" stroke-width="0.45"/>
<line x1="66.0" y1="116.0" x2="64.2" y2="13.3" stroke="#e8e8e8" stroke-width="0.45"/>
<line x1="144.3" y1="115.4" x2="146.0" y2="13.4" stroke="#e8e8e8" stroke-width="0.45"/>
<line x1="75.0" y1="113.6" x2="73.5" y2="12.2" stroke="#e8e8e8" stroke-width="0.45"/>
<line x1="152.7" y1="118.3" x2="154.7" y2="14.8" stroke="#e8e8e8" stroke-width="0.45"/>
<line x1="84.0" y1="111.2" x2="82.9" y2="11.2" stroke="#e8e8e8" stroke-width="0.45"/>
<line x1="161.0" y1="121.1" x2="163.5" y2="16.1" stroke="#e8e8e8" stroke-width="0.45"/>
<line x1="93.0" y1="108.8" x2="92.3" y2="10.1" stroke="#e8e8e8" stroke-width="0.45"/>
<line x1="169.3" y1="124.0" x2="172.2" y2="17.5" stroke="#e8e8e8" stroke-width="0.45"/>
<line x1="102.0" y1="106.4" x2="101.6" y2="9.1" stroke="#e8e8e8" stroke-width="0.45"/>
<line x1="177.7" y1="126.8" x2="181.0" y2="18.8" stroke="#e8e8e8" stroke-width="0.45"/>
<line x1="29.7" y1="114.8" x2="111.0" y2="94.4" stroke="#e8e8e8" stroke-width="0.45"/>
<line x1="111.0" y1="94.4" x2="186.4" y2="118.7" stroke="#e8e8e8" stroke-width="0.45"/>
<line x1="29.3" y1="104.0" x2="111.0" y2="84.8" stroke="#e8e8e8" stroke-width="0.45"/>
<line x1="111.0" y1="84.8" x2="186.7" y2="107.8" stroke="#e8e8e8" stroke-width="0.45"/>
<line x1="29.0" y1="93.2" x2="111.0" y2="75.2" stroke="#e8e8e8" stroke-width="0.45"/>
<line x1="111.0" y1="75.2" x2="187.1" y2="96.8" stroke="#e8e8e8" stroke-width="0.45"/>
<line x1="28.7" y1="82.4" x2="111.0" y2="65.6" stroke="#e8e8e8" stroke-width="0.45"/>
<line x1="111.0" y1="65.6" x2="187.5" y2="85.9" stroke="#e8e8e8" stroke-width="0.45"/>
<line x1="28.4" y1="71.5" x2="111.0" y2="56.0" stroke="#e8e8e8" stroke-width="0.45"/>
<line x1="111.0" y1="56.0" x2="187.8" y2="74.9" stroke="#e8e8e8" stroke-width="0.45"/>
<line x1="28.0" y1="60.7" x2="111.0" y2="46.4" stroke="#e8e8e8" stroke-width="0.45"/>
<line x1="111.0" y1="46.4" x2="188.2" y2="64.0" stroke="#e8e8e8" stroke-width="0.45"/>
<line x1="27.7" y1="49.9" x2="111.0" y2="36.8" stroke="#e8e8e8" stroke-width="0.45"/>
<line x1="111.0" y1="36.8" x2="188.6" y2="53.0" stroke="#e8e8e8" stroke-width="0.45"/>
<line x1="27.4" y1="39.1" x2="111.0" y2="27.2" stroke="#e8e8e8" stroke-width="0.45"/>
<line x1="111.0" y1="27.2" x2="189.0" y2="42.1" stroke="#e8e8e8" stroke-width="0.45"/>
<line x1="27.0" y1="28.3" x2="111.0" y2="17.6" stroke="#e8e8e8" stroke-width="0.45"/>
<line x1="111.0" y1="17.6" x2="189.3" y2="31.2" stroke="#e8e8e8" stroke-width="0.45"/>
<line x1="26.7" y1="17.5" x2="111.0" y2="8.0" stroke="#8a8a8a" stroke-width="0.65" stroke-dasharray="2,1.2"/>
<line x1="111.0" y1="8.0" x2="189.7" y2="20.2" stroke="#8a8a8a" stroke-width="0.65" stroke-dasharray="2,1.2"/>
<line x1="111.0" y1="104.0" x2="111.0" y2="8.0" stroke="#aaa" stroke-width="0.60"/>
<line x1="186.0" y1="129.7" x2="189.7" y2="20.2" stroke="#8a8a8a" stroke-width="0.70" stroke-dasharray="2.5,1.5"/>
<line x1="30.0" y1="125.6" x2="111.0" y2="104.0" stroke="#aaa" stroke-width="0.50"/>
<line x1="111.0" y1="104.0" x2="186.0" y2="129.7" stroke="#aaa" stroke-width="0.50"/>
<g clip-path="url(#ca)">
<polygon points="39.7,123.3 108.8,157.2 180.0,130.5 106.0,107.5" fill="#50ff30"/>
<g filter="url(#blur)">
<polygon points="38.0,123.0 50.0,119.0 56.0,121.0 50.0,126.0 40.0,126.0" fill="#ffc000"/>
<polygon points="54.0,121.0 76.0,115.5 102.0,110.0 104.0,112.0 78.0,118.5 58.0,123.0" fill="#00e0ff"/>
<polygon points="56.0,119.5 75.0,114.0 100.0,108.0 104.0,108.5 102.0,110.5 78.0,116.0 58.0,121.0" fill="#1860ff"/>
<polygon points="42.0,124.5 60.0,120.0 80.0,116.5 100.0,113.5 125.0,112.5 140.0,115.0 140.0,121.0 120.0,122.0 100.0,123.0 80.0,126.0 60.0,129.5 48.0,130.0" fill="#ff1000"/>
<polygon points="58.0,124.0 80.0,119.5 98.0,116.5 100.0,119.5 80.0,123.0 62.0,127.0" fill="#900000"/>
<polygon points="48.0,130.0 60.0,129.5 80.0,126.0 100.0,123.0 120.0,122.0 140.0,121.0 140.0,124.0 110.0,126.5 85.0,129.0 60.0,133.0 50.0,133.0" fill="#ffff00"/>
<polygon points="65.0,133.0 72.0,131.5 80.0,132.5 84.0,135.0 78.0,138.5 70.0,139.0 66.0,136.0" fill="#ff1000"/>
<polygon points="80.0,141.0 90.0,139.5 98.0,141.5 101.0,145.0 92.0,146.5 83.0,145.0" fill="#ff2000"/>
<polygon points="96.0,125.0 110.0,124.5 116.0,126.0 110.0,128.5 98.0,128.5" fill="#00f0ff"/>
<polygon points="112.0,121.0 125.0,119.5 140.0,120.0 143.0,122.5 125.0,124.0 114.0,124.0" fill="#6000e0"/>
<polygon points="119.0,133.0 133.0,131.5 147.0,134.0 140.0,139.5 124.0,139.0" fill="#20d0ff"/>
<polygon points="147.0,124.0 160.0,124.5 175.0,129.0 165.0,131.0 150.0,128.0" fill="#ffe000"/>
<polygon points="104.0,150.0 118.0,146.5 134.0,148.0 128.0,153.0 112.0,157.0" fill="#ffa000"/>
<polygon points="108.0,151.5 118.0,148.5 132.0,149.5 124.0,153.0 111.0,156.5" fill="#ff1000"/>
<polygon points="96.0,151.0 104.0,151.5 108.0,155.5 100.0,155.0" fill="#1040ff"/>
</g></g>
<line x1="26.7" y1="17.5" x2="30.0" y2="125.6" stroke="#555" stroke-width="0.60"/>
<line x1="30.0" y1="125.6" x2="103.1" y2="160.6" stroke="#555" stroke-width="0.60"/>
<line x1="103.1" y1="160.6" x2="108.2" y2="158.2" stroke="#555" stroke-width="0.60"/>
<line x1="108.2" y1="158.2" x2="181.0" y2="131.3" stroke="#777" stroke-width="0.45"/>
<line x1="181.0" y1="131.3" x2="186.0" y2="129.7" stroke="#888" stroke-width="0.45"/>
<line x1="29.7" y1="117.3" x2="31.5" y2="117.3" stroke="#555" stroke-width="0.50"/>
<text x="28.2" y="119.9" font-size="7.40" text-anchor="end">0</text>
<line x1="29.4" y1="105.1" x2="31.2" y2="105.1" stroke="#555" stroke-width="0.50"/>
<text x="27.9" y="107.7" font-size="7.40" text-anchor="end">50</text>
<line x1="29.0" y1="92.9" x2="30.8" y2="92.9" stroke="#555" stroke-width="0.50"/>
<text x="27.5" y="95.5" font-size="7.40" text-anchor="end">100</text>
<line x1="28.6" y1="80.7" x2="30.4" y2="80.7" stroke="#555" stroke-width="0.50"/>
<text x="27.1" y="83.3" font-size="7.40" text-anchor="end">150</text>
<line x1="28.3" y1="68.5" x2="30.1" y2="68.5" stroke="#555" stroke-width="0.50"/>
<text x="26.8" y="71.1" font-size="7.40" text-anchor="end">200</text>
<line x1="27.9" y1="56.3" x2="29.7" y2="56.3" stroke="#555" stroke-width="0.50"/>
<text x="26.4" y="58.9" font-size="7.40" text-anchor="end">250</text>
<line x1="27.5" y1="44.1" x2="29.3" y2="44.1" stroke="#555" stroke-width="0.50"/>
<text x="26.0" y="46.7" font-size="7.40" text-anchor="end">300</text>
<line x1="27.1" y1="31.9" x2="28.9" y2="31.9" stroke="#555" stroke-width="0.50"/>
<text x="25.6" y="34.5" font-size="7.40" text-anchor="end">350</text>
<line x1="26.8" y1="19.7" x2="28.6" y2="19.7" stroke="#555" stroke-width="0.50"/>
<text x="25.3" y="22.3" font-size="7.40" text-anchor="end">400</text>
<line x1="33.7" y1="127.3" x2="33.1" y2="128.5" stroke="#555" stroke-width="0.40"/>
<text x="0.0" y="0.0" font-size="5.40" text-anchor="middle" transform="translate(28.5 131.0) rotate(25.6)">1</text>
<line x1="41.0" y1="130.8" x2="40.4" y2="132.0" stroke="#555" stroke-width="0.40"/>
<text x="0.0" y="0.0" font-size="5.40" text-anchor="middle" transform="translate(35.8 134.5) rotate(25.6)">2</text>
<line x1="48.3" y1="134.3" x2="47.7" y2="135.5" stroke="#555" stroke-width="0.40"/>
<text x="0.0" y="0.0" font-size="5.40" text-anchor="middle" transform="translate(43.1 138.0) rotate(25.6)">3</text>
<line x1="55.6" y1="137.8" x2="55.0" y2="139.0" stroke="#555" stroke-width="0.40"/>
<text x="0.0" y="0.0" font-size="5.40" text-anchor="middle" transform="translate(50.4 141.5) rotate(25.6)">4</text>
<line x1="62.9" y1="141.3" x2="62.3" y2="142.5" stroke="#555" stroke-width="0.40"/>
<text x="0.0" y="0.0" font-size="5.40" text-anchor="middle" transform="translate(57.7 145.0) rotate(25.6)">5</text>
<line x1="70.2" y1="144.8" x2="69.6" y2="146.0" stroke="#555" stroke-width="0.40"/>
<text x="0.0" y="0.0" font-size="5.40" text-anchor="middle" transform="translate(65.1 148.5) rotate(25.6)">6</text>
<line x1="77.5" y1="148.3" x2="77.0" y2="149.5" stroke="#555" stroke-width="0.40"/>
<text x="0.0" y="0.0" font-size="5.40" text-anchor="middle" transform="translate(72.4 152.0) rotate(25.6)">7</text>
<line x1="84.8" y1="151.8" x2="84.3" y2="153.0" stroke="#555" stroke-width="0.40"/>
<text x="0.0" y="0.0" font-size="5.40" text-anchor="middle" transform="translate(79.7 155.5) rotate(25.6)">8</text>
<line x1="92.1" y1="155.3" x2="91.6" y2="156.5" stroke="#555" stroke-width="0.40"/>
<text x="0.0" y="0.0" font-size="5.40" text-anchor="middle" transform="translate(87.0 159.0) rotate(25.6)">9</text>
<line x1="99.4" y1="158.8" x2="98.9" y2="160.0" stroke="#555" stroke-width="0.40"/>
<text x="0.0" y="0.0" font-size="5.40" text-anchor="middle" transform="translate(94.3 162.5) rotate(25.6)">10</text>
<text x="0.0" y="0.0" font-size="5.80" text-anchor="middle" transform="translate(118.7 161.5) rotate(-80)">20</text>
<text x="0.0" y="0.0" font-size="5.80" text-anchor="middle" transform="translate(159.8 143.8) rotate(-80)">50</text>
<text x="0.0" y="0.0" font-size="5.80" text-anchor="middle" transform="translate(187.4 133.3) rotate(-80)">70</text>
<text x="0.0" y="0.0" font-size="7.20" text-anchor="middle" transform="translate(49.0 148.0) rotate(28.7) skewX(-12)" dy="2.4" textLength="47.9" lengthAdjust="spacingAndGlyphs">Storage days (d)</text>
<text x="0.0" y="0.0" font-size="8.20" text-anchor="middle" transform="translate(160.1 151.9) skewY(-21.2)" dy="2.5" textLength="59.8" lengthAdjust="spacingAndGlyphs">Oxygen content (%)</text>
<text x="6.8" y="76.9" font-size="10.50" text-anchor="middle" transform="rotate(90 6.8 76.9)" textLength="52.0" lengthAdjust="spacingAndGlyphs">Hardness (g)</text>
<polygon points="139.0,80.0 143.0,77.0 147.5,74.4 155.0,68.8 160.6,64.0 166.2,66.9 172.0,74.4 175.6,83.8 177.5,93.0 175.6,97.0 170.0,98.8 160.6,97.0 151.0,95.0 140.0,94.0" fill="url(#g2)"/>
<polygon points="105.0,55.0 109.0,51.0 111.0,47.5 113.8,40.6 116.5,36.5 119.4,33.1 122.0,31.0 125.0,30.3 127.5,31.5 129.7,34.0 132.5,38.8 135.3,44.4 136.2,57.5 137.2,72.5 139.0,80.0 139.0,90.0 105.0,90.0" fill="url(#g3)"/>
<polygon points="51.0,51.5 54.0,50.0 57.0,48.5 59.8,46.4 62.0,42.5 64.2,39.0 68.0,35.0 71.5,31.8 75.0,28.5 78.8,26.0 81.0,24.3 83.9,23.8 86.0,23.9 88.0,24.5 91.0,26.0 93.3,28.0 96.5,30.5 99.2,34.0 101.5,36.5 103.5,39.8 105.0,43.0 106.5,46.0 109.0,51.0 109.0,80.0 51.0,80.0" fill="url(#g4)"/>
<polygon points="115.0,92.0 125.0,94.0 137.0,95.0 138.0,99.0 135.0,103.0 130.0,105.5 124.0,105.0 119.4,100.0 115.0,97.0" fill="url(#g5)"/>
<polygon points="40.2,53.5 42.0,52.4 45.0,52.0 48.0,52.6 50.0,54.5 50.2,60.0 49.8,70.0 48.5,78.0 46.0,84.0 44.2,87.5 42.5,85.0 41.0,78.0 40.5,65.0" fill="url(#g6)"/>
<polygon points="64.0,80.0 72.0,80.0 70.5,86.5 66.0,83.5" fill="#2070ff"/>
<polygon points="50.8,51.7 56.0,50.5 62.0,51.0 68.0,53.0 75.0,55.0 82.0,57.0 90.0,59.0 98.0,60.0 104.0,58.0 108.0,57.0 112.0,60.0 115.0,66.0 115.0,73.3 111.7,78.3 109.2,86.7 106.7,95.0 105.0,105.0 103.3,115.0 100.8,120.0 98.3,118.3 95.0,111.7 92.5,100.0 90.0,93.3 85.0,86.7 81.7,85.0 78.3,89.2 75.8,93.3 74.2,92.5 70.8,86.7 68.0,84.0 65.8,80.8 64.2,82.5 60.8,90.0 58.3,94.2 56.0,88.0 53.3,78.3 50.8,61.7" fill="url(#g7)"/>
<polygon points="66.0,54.0 72.0,53.5 78.0,55.0 82.0,58.0 84.0,64.0 83.0,72.0 80.0,80.0 77.0,86.0 75.0,90.0 72.0,86.0 69.0,78.0 67.0,68.0" fill="url(#g8)"/>
<polygon points="108.0,105.0 109.0,95.0 110.0,86.0 112.0,78.0 115.0,74.5 118.0,73.0 120.3,72.5 123.0,72.8 125.0,73.5 128.8,76.2 133.0,79.0 138.0,82.0 145.0,84.0 151.0,85.6 160.6,89.4 170.0,92.5 176.0,95.0 172.0,98.5 160.0,98.0 150.0,97.0 140.0,96.5 130.0,97.0 120.0,98.0 112.0,100.0" fill="url(#g9)"/>
<circle cx="35.0" cy="38.3" r="1.25" fill="#f01010"/>
<circle cx="50.0" cy="43.8" r="1.25" fill="#f01010"/>
<circle cx="86.7" cy="17.3" r="1.25" fill="#f01010"/>
<circle cx="43.8" cy="80.0" r="1.25" fill="#f01010"/>
<circle cx="58.8" cy="87.5" r="1.25" fill="#f01010"/>
<circle cx="74.5" cy="75.8" r="1.25" fill="#f01010"/>
<circle cx="82.5" cy="62.5" r="1.25" fill="#f01010"/>
<circle cx="110.5" cy="63.2" r="1.25" fill="#f01010"/>
<circle cx="92.0" cy="94.5" r="1.25" fill="#f01010"/>
<circle cx="100.8" cy="117.5" r="1.25" fill="#f01010"/>
<circle cx="138.0" cy="99.5" r="1.25" fill="#f01010"/>
<circle cx="148.0" cy="77.5" r="1.25" fill="#f01010"/>
<circle cx="136.5" cy="44.5" r="1.25" fill="#f01010"/>
<circle cx="162.9" cy="60.0" r="1.25" fill="#f01010"/>
<circle cx="171.8" cy="68.3" r="1.25" fill="#f01010"/>
<circle cx="181.0" cy="85.2" r="1.25" fill="#f01010"/>
<text x="35.0" y="24.2" font-size="7.20" text-anchor="start">(a)</text>
<rect x="199.00" y="8.00" width="8.25" height="159.50" fill="url(#g10)"/>
<line x1="208.1" y1="8.0" x2="209.4" y2="8.0" stroke="#666" stroke-width="0.50"/>
<text x="211.0" y="9.9" font-size="5.60" text-anchor="start">372.0</text>
<line x1="208.1" y1="23.9" x2="209.4" y2="23.9" stroke="#666" stroke-width="0.50"/>
<text x="211.0" y="25.8" font-size="5.60" text-anchor="start">337.3</text>
<line x1="208.1" y1="39.9" x2="209.4" y2="39.9" stroke="#666" stroke-width="0.50"/>
<text x="211.0" y="41.8" font-size="5.60" text-anchor="start">302.6</text>
<line x1="208.1" y1="55.9" x2="209.4" y2="55.9" stroke="#666" stroke-width="0.50"/>
<text x="211.0" y="57.8" font-size="5.60" text-anchor="start">267.9</text>
<line x1="208.1" y1="71.8" x2="209.4" y2="71.8" stroke="#666" stroke-width="0.50"/>
<text x="211.0" y="73.7" font-size="5.60" text-anchor="start">233.2</text>
<line x1="208.1" y1="87.8" x2="209.4" y2="87.8" stroke="#666" stroke-width="0.50"/>
<text x="211.0" y="89.7" font-size="5.60" text-anchor="start">198.5</text>
<line x1="208.1" y1="103.7" x2="209.4" y2="103.7" stroke="#666" stroke-width="0.50"/>
<text x="211.0" y="105.6" font-size="5.60" text-anchor="start">163.8</text>
<line x1="208.1" y1="119.7" x2="209.4" y2="119.7" stroke="#666" stroke-width="0.50"/>
<text x="211.0" y="121.6" font-size="5.60" text-anchor="start">129.1</text>
<line x1="208.1" y1="135.6" x2="209.4" y2="135.6" stroke="#666" stroke-width="0.50"/>
<text x="211.0" y="137.5" font-size="5.60" text-anchor="start">94.40</text>
<line x1="208.1" y1="151.6" x2="209.4" y2="151.6" stroke="#666" stroke-width="0.50"/>
<text x="211.0" y="153.5" font-size="5.60" text-anchor="start">59.70</text>
<line x1="208.1" y1="167.5" x2="209.4" y2="167.5" stroke="#666" stroke-width="0.50"/>
<text x="211.0" y="169.4" font-size="5.60" text-anchor="start">25.00</text>
<line x1="288.3" y1="124.0" x2="285.4" y2="16.8" stroke="#e8e8e8" stroke-width="0.45"/>
<line x1="365.6" y1="104.2" x2="367.7" y2="8.8" stroke="#e8e8e8" stroke-width="0.45"/>
<line x1="296.9" y1="121.1" x2="294.6" y2="15.7" stroke="#e8e8e8" stroke-width="0.45"/>
<line x1="374.1" y1="107.3" x2="376.6" y2="10.2" stroke="#e8e8e8" stroke-width="0.45"/>
<line x1="305.5" y1="118.3" x2="303.8" y2="14.5" stroke="#e8e8e8" stroke-width="0.45"/>
<line x1="382.7" y1="110.5" x2="385.5" y2="11.5" stroke="#e8e8e8" stroke-width="0.45"/>
<line x1="314.1" y1="115.4" x2="312.9" y2="13.3" stroke="#e8e8e8" stroke-width="0.45"/>
<line x1="391.2" y1="113.7" x2="394.4" y2="12.8" stroke="#e8e8e8" stroke-width="0.45"/>
<line x1="322.7" y1="112.5" x2="322.1" y2="12.2" stroke="#e8e8e8" stroke-width="0.45"/>
<line x1="399.8" y1="116.8" x2="403.3" y2="14.2" stroke="#e8e8e8" stroke-width="0.45"/>
<line x1="331.2" y1="109.6" x2="331.2" y2="11.0" stroke="#e8e8e8" stroke-width="0.45"/>
<line x1="408.3" y1="120.0" x2="412.2" y2="15.5" stroke="#e8e8e8" stroke-width="0.45"/>
<line x1="339.8" y1="106.8" x2="340.4" y2="9.8" stroke="#e8e8e8" stroke-width="0.45"/>
<line x1="416.9" y1="123.2" x2="421.2" y2="16.8" stroke="#e8e8e8" stroke-width="0.45"/>
<line x1="348.4" y1="103.9" x2="349.6" y2="8.7" stroke="#e8e8e8" stroke-width="0.45"/>
<line x1="425.4" y1="126.3" x2="430.1" y2="18.2" stroke="#e8e8e8" stroke-width="0.45"/>
<line x1="279.4" y1="116.0" x2="357.2" y2="91.7" stroke="#e8e8e8" stroke-width="0.45"/>
<line x1="357.2" y1="91.7" x2="434.5" y2="118.5" stroke="#e8e8e8" stroke-width="0.45"/>
<line x1="279.1" y1="105.1" x2="357.4" y2="82.3" stroke="#e8e8e8" stroke-width="0.45"/>
<line x1="357.4" y1="82.3" x2="435.0" y2="107.5" stroke="#e8e8e8" stroke-width="0.45"/>
<line x1="278.7" y1="94.2" x2="357.5" y2="73.0" stroke="#e8e8e8" stroke-width="0.45"/>
<line x1="357.5" y1="73.0" x2="435.5" y2="96.5" stroke="#e8e8e8" stroke-width="0.45"/>
<line x1="278.4" y1="83.3" x2="357.7" y2="63.6" stroke="#e8e8e8" stroke-width="0.45"/>
<line x1="357.7" y1="63.6" x2="436.0" y2="85.5" stroke="#e8e8e8" stroke-width="0.45"/>
<line x1="278.0" y1="72.5" x2="357.9" y2="54.2" stroke="#e8e8e8" stroke-width="0.45"/>
<line x1="357.9" y1="54.2" x2="436.5" y2="74.5" stroke="#e8e8e8" stroke-width="0.45"/>
<line x1="277.6" y1="61.6" x2="358.1" y2="44.9" stroke="#e8e8e8" stroke-width="0.45"/>
<line x1="358.1" y1="44.9" x2="437.0" y2="63.5" stroke="#e8e8e8" stroke-width="0.45"/>
<line x1="277.3" y1="50.7" x2="358.2" y2="35.5" stroke="#e8e8e8" stroke-width="0.45"/>
<line x1="358.2" y1="35.5" x2="437.5" y2="52.5" stroke="#e8e8e8" stroke-width="0.45"/>
<line x1="276.9" y1="39.8" x2="358.4" y2="26.2" stroke="#e8e8e8" stroke-width="0.45"/>
<line x1="358.4" y1="26.2" x2="438.0" y2="41.5" stroke="#e8e8e8" stroke-width="0.45"/>
<line x1="276.6" y1="28.9" x2="358.6" y2="16.8" stroke="#e8e8e8" stroke-width="0.45"/>
<line x1="358.6" y1="16.8" x2="438.5" y2="30.5" stroke="#e8e8e8" stroke-width="0.45"/>
<line x1="276.2" y1="18.0" x2="358.8" y2="7.5" stroke="#8a8a8a" stroke-width="0.65" stroke-dasharray="2,1.2"/>
<line x1="358.8" y1="7.5" x2="439.0" y2="19.5" stroke="#8a8a8a" stroke-width="0.65" stroke-dasharray="2,1.2"/>
<line x1="357.0" y1="101.0" x2="358.8" y2="7.5" stroke="#aaa" stroke-width="0.60"/>
<line x1="434.0" y1="129.5" x2="439.0" y2="19.5" stroke="#8a8a8a" stroke-width="0.70" stroke-dasharray="2.5,1.5"/>
<line x1="279.8" y1="126.9" x2="357.0" y2="101.0" stroke="#aaa" stroke-width="0.50"/>
<line x1="357.0" y1="101.0" x2="434.0" y2="129.5" stroke="#aaa" stroke-width="0.50"/>
<g clip-path="url(#cb)">
<polygon points="288.1,125.0 359.8,156.9 427.5,129.8 352.5,104.8" fill="#ff1000"/>
<g filter="url(#blur)">
<polygon points="290.0,124.5 320.0,114.0 352.5,104.8 380.0,113.0 405.0,120.0 390.0,121.0 360.0,116.0 330.0,119.0 300.0,126.0" fill="#900000"/>
<polygon points="305.0,133.0 320.0,130.5 340.0,129.0 360.0,127.0 380.0,123.0 398.0,120.0 408.0,121.0 400.0,125.0 380.0,128.0 360.0,132.0 345.0,136.0 330.0,139.0 312.0,139.0" fill="#ffee00"/>
<polygon points="318.0,134.0 335.0,132.0 352.0,131.0 365.0,129.0 352.0,134.0 336.0,137.0 322.0,137.5" fill="#50ff20"/>
<polygon points="335.0,145.0 350.0,143.0 370.0,139.0 395.0,135.0 415.0,132.0 428.0,130.0 425.0,133.0 405.0,139.0 385.0,145.0 370.0,152.0 360.0,156.5 345.0,152.0" fill="#ffd000"/>
<polygon points="405.0,131.0 420.0,129.0 428.0,130.0 425.0,133.0 410.0,137.0 400.0,138.0" fill="#40ffb0"/>
<polygon points="414.0,130.0 427.5,129.8 424.0,132.0 412.0,134.0" fill="#00e8ff"/>
<polygon points="338.0,146.0 348.0,143.0 358.0,146.0 354.0,151.0 342.0,151.0" fill="#00e0ff"/>
<polygon points="341.0,147.0 348.0,145.0 355.0,146.5 352.0,150.0 344.0,150.0" fill="#3010ff"/>
<polygon points="352.0,151.0 365.0,149.0 375.0,151.0 362.0,156.5" fill="#ff8000"/>
</g></g>
<line x1="276.2" y1="18.0" x2="279.8" y2="126.9" stroke="#555" stroke-width="0.60"/>
<line x1="279.8" y1="126.9" x2="358.0" y2="159.5" stroke="#555" stroke-width="0.60"/>
<line x1="358.0" y1="159.5" x2="359.3" y2="157.9" stroke="#555" stroke-width="0.60"/>
<line x1="359.3" y1="157.9" x2="428.5" y2="130.6" stroke="#777" stroke-width="0.45"/>
<line x1="428.5" y1="130.6" x2="434.0" y2="129.5" stroke="#888" stroke-width="0.45"/>
<line x1="276.3" y1="20.5" x2="278.1" y2="20.5" stroke="#555" stroke-width="0.50"/>
<text x="274.8" y="23.1" font-size="7.40" text-anchor="end">0.99</text>
<line x1="276.8" y1="34.4" x2="278.6" y2="34.4" stroke="#555" stroke-width="0.50"/>
<text x="275.3" y="37.0" font-size="7.40" text-anchor="end">0.96</text>
<line x1="277.2" y1="48.2" x2="279.0" y2="48.2" stroke="#555" stroke-width="0.50"/>
<text x="275.7" y="50.8" font-size="7.40" text-anchor="end">0.93</text>
<line x1="277.7" y1="62.1" x2="279.5" y2="62.1" stroke="#555" stroke-width="0.50"/>
<text x="276.2" y="64.7" font-size="7.40" text-anchor="end">0.90</text>
<line x1="278.1" y1="75.9" x2="279.9" y2="75.9" stroke="#555" stroke-width="0.50"/>
<text x="276.6" y="78.5" font-size="7.40" text-anchor="end">0.87</text>
<line x1="278.6" y1="89.8" x2="280.4" y2="89.8" stroke="#555" stroke-width="0.50"/>
<text x="277.1" y="92.4" font-size="7.40" text-anchor="end">0.84</text>
<line x1="279.0" y1="103.7" x2="280.8" y2="103.7" stroke="#555" stroke-width="0.50"/>
<text x="277.5" y="106.3" font-size="7.40" text-anchor="end">0.81</text>
<line x1="279.4" y1="117.5" x2="281.2" y2="117.5" stroke="#555" stroke-width="0.50"/>
<text x="277.9" y="120.1" font-size="7.40" text-anchor="end">0.78</text>
<line x1="283.7" y1="128.5" x2="283.2" y2="129.7" stroke="#555" stroke-width="0.40"/>
<text x="0.0" y="0.0" font-size="5.40" text-anchor="middle" transform="translate(278.5 132.2) rotate(22.6)">1</text>
<line x1="291.5" y1="131.8" x2="291.0" y2="133.0" stroke="#555" stroke-width="0.40"/>
<text x="0.0" y="0.0" font-size="5.40" text-anchor="middle" transform="translate(286.4 135.5) rotate(22.6)">2</text>
<line x1="299.3" y1="135.1" x2="298.8" y2="136.3" stroke="#555" stroke-width="0.40"/>
<text x="0.0" y="0.0" font-size="5.40" text-anchor="middle" transform="translate(294.2 138.8) rotate(22.6)">3</text>
<line x1="307.1" y1="138.3" x2="306.6" y2="139.5" stroke="#555" stroke-width="0.40"/>
<text x="0.0" y="0.0" font-size="5.40" text-anchor="middle" transform="translate(302.0 142.0) rotate(22.6)">4</text>
<line x1="315.0" y1="141.6" x2="314.5" y2="142.8" stroke="#555" stroke-width="0.40"/>
<text x="0.0" y="0.0" font-size="5.40" text-anchor="middle" transform="translate(309.8 145.3) rotate(22.6)">5</text>
<line x1="322.8" y1="144.8" x2="322.3" y2="146.0" stroke="#555" stroke-width="0.40"/>
<text x="0.0" y="0.0" font-size="5.40" text-anchor="middle" transform="translate(317.7 148.5) rotate(22.6)">6</text>
<line x1="330.6" y1="148.1" x2="330.1" y2="149.3" stroke="#555" stroke-width="0.40"/>
<text x="0.0" y="0.0" font-size="5.40" text-anchor="middle" transform="translate(325.5 151.8) rotate(22.6)">7</text>
<line x1="338.4" y1="151.3" x2="337.9" y2="152.6" stroke="#555" stroke-width="0.40"/>
<text x="0.0" y="0.0" font-size="5.40" text-anchor="middle" transform="translate(333.3 155.1) rotate(22.6)">8</text>
<line x1="346.3" y1="154.6" x2="345.8" y2="155.8" stroke="#555" stroke-width="0.40"/>
<text x="0.0" y="0.0" font-size="5.40" text-anchor="middle" transform="translate(341.1 158.3) rotate(22.6)">9</text>
<line x1="354.1" y1="157.9" x2="353.6" y2="159.1" stroke="#555" stroke-width="0.40"/>
<text x="0.0" y="0.0" font-size="5.40" text-anchor="middle" transform="translate(349.0 161.6) rotate(22.6)">10</text>
<text x="0.0" y="0.0" font-size="5.80" text-anchor="middle" transform="translate(368.9 160.4) rotate(-80)">20</text>
<text x="0.0" y="0.0" font-size="5.80" text-anchor="middle" transform="translate(411.4 142.9) rotate(-80)">50</text>
<text x="0.0" y="0.0" font-size="5.80" text-anchor="middle" transform="translate(437.4 133.5) rotate(-80)">70</text>
<text x="0.0" y="0.0" font-size="7.20" text-anchor="middle" transform="translate(299.5 147.0) rotate(27.1) skewX(-12)" dy="2.4" textLength="48.3" lengthAdjust="spacingAndGlyphs">Storage days (d)</text>
<text x="0.0" y="0.0" font-size="8.20" text-anchor="middle" transform="translate(411.9 150.8) skewY(-22.7)" dy="2.5" textLength="56.1" lengthAdjust="spacingAndGlyphs">Oxygen content (%)</text>
<text x="254.6" y="78.8" font-size="9.80" text-anchor="middle" transform="rotate(90 254.6 78.8)" textLength="38.2" lengthAdjust="spacingAndGlyphs">Elasticity</text>
<polygon points="298.6,29.4 302.0,26.5 306.0,23.8 311.0,21.0 315.5,19.0 321.0,17.2 328.6,15.3 334.0,13.8 340.0,12.5 345.0,11.9 349.0,11.6 353.0,12.5 356.0,14.5 358.8,18.1 362.0,19.0 366.2,19.6 372.0,19.8 377.5,20.0 380.0,21.5 383.0,23.8 387.8,27.5 392.5,31.2 395.3,35.0 400.0,35.0 405.6,34.0 411.2,32.2 413.1,32.2 414.0,36.9 415.0,48.0 417.0,57.5 419.7,65.0 424.4,72.5 431.0,79.0 422.5,81.9 411.2,84.7 400.0,85.6 392.5,82.8 383.0,77.2 373.8,72.5 364.4,67.8 355.0,63.1 345.0,70.0 334.2,77.2 324.9,75.3 316.4,69.7 308.0,63.1 305.2,55.6 302.4,46.2 300.5,36.9" fill="url(#g12)"/>
<polygon points="283.6,33.1 287.0,29.0 291.1,24.7 294.0,26.5 296.8,28.4 298.6,29.4 299.5,31.0 292.0,32.0 286.0,33.5" fill="url(#g13)"/>
<polygon points="333.8,55.0 336.0,62.0 337.5,77.5 341.2,97.5 343.8,110.0 346.0,104.0 352.5,91.2 361.2,80.0 366.2,70.0 363.8,66.9 358.0,64.0 352.5,62.5 346.0,63.0 340.0,60.0" fill="url(#g14)"/>
<circle cx="283.6" cy="33.1" r="1.25" fill="#f01010"/>
<circle cx="308.0" cy="63.1" r="1.25" fill="#f01010"/>
<circle cx="316.4" cy="69.7" r="1.25" fill="#f01010"/>
<circle cx="324.9" cy="75.3" r="1.25" fill="#f01010"/>
<circle cx="352.5" cy="62.5" r="1.25" fill="#f01010"/>
<circle cx="363.6" cy="66.9" r="1.25" fill="#f01010"/>
<circle cx="390.2" cy="66.9" r="1.25" fill="#f01010"/>
<circle cx="421.6" cy="68.2" r="1.25" fill="#f01010"/>
<circle cx="431.0" cy="79.4" r="1.25" fill="#f01010"/>
<circle cx="399.6" cy="85.6" r="1.25" fill="#f01010"/>
<circle cx="343.8" cy="111.0" r="1.25" fill="#f01010"/>
<text x="285.0" y="24.0" font-size="7.20" text-anchor="start">(b)</text>
<rect x="448.10" y="7.50" width="8.80" height="160.00" fill="url(#g15)"/>
<line x1="457.7" y1="7.5" x2="459.1" y2="7.5" stroke="#666" stroke-width="0.50"/>
<text x="461.0" y="9.4" font-size="5.60" text-anchor="start">0.9870</text>
<line x1="457.7" y1="23.5" x2="459.1" y2="23.5" stroke="#666" stroke-width="0.50"/>
<text x="461.0" y="25.4" font-size="5.60" text-anchor="start">0.9717</text>
<line x1="457.7" y1="39.5" x2="459.1" y2="39.5" stroke="#666" stroke-width="0.50"/>
<text x="461.0" y="41.4" font-size="5.60" text-anchor="start">0.9564</text>
<line x1="457.7" y1="55.5" x2="459.1" y2="55.5" stroke="#666" stroke-width="0.50"/>
<text x="461.0" y="57.4" font-size="5.60" text-anchor="start">0.9411</text>
<line x1="457.7" y1="71.5" x2="459.1" y2="71.5" stroke="#666" stroke-width="0.50"/>
<text x="461.0" y="73.4" font-size="5.60" text-anchor="start">0.9258</text>
<line x1="457.7" y1="87.5" x2="459.1" y2="87.5" stroke="#666" stroke-width="0.50"/>
<text x="461.0" y="89.4" font-size="5.60" text-anchor="start">0.9105</text>
<line x1="457.7" y1="103.5" x2="459.1" y2="103.5" stroke="#666" stroke-width="0.50"/>
<text x="461.0" y="105.4" font-size="5.60" text-anchor="start">0.8952</text>
<line x1="457.7" y1="119.5" x2="459.1" y2="119.5" stroke="#666" stroke-width="0.50"/>
<text x="461.0" y="121.4" font-size="5.60" text-anchor="start">0.8799</text>
<line x1="457.7" y1="135.5" x2="459.1" y2="135.5" stroke="#666" stroke-width="0.50"/>
<text x="461.0" y="137.4" font-size="5.60" text-anchor="start">0.8646</text>
<line x1="457.7" y1="151.5" x2="459.1" y2="151.5" stroke="#666" stroke-width="0.50"/>
<text x="461.0" y="153.4" font-size="5.60" text-anchor="start">0.8493</text>
<line x1="457.7" y1="167.5" x2="459.1" y2="167.5" stroke="#666" stroke-width="0.50"/>
<text x="461.0" y="169.4" font-size="5.60" text-anchor="start">0.8340</text>
<line x1="43.2" y1="308.2" x2="40.1" y2="205.3" stroke="#e8e8e8" stroke-width="0.45"/>
<line x1="127.8" y1="294.2" x2="128.1" y2="199.5" stroke="#e8e8e8" stroke-width="0.45"/>
<line x1="52.8" y1="305.9" x2="50.1" y2="204.4" stroke="#e8e8e8" stroke-width="0.45"/>
<line x1="135.1" y1="298.4" x2="135.7" y2="200.9" stroke="#e8e8e8" stroke-width="0.45"/>
<line x1="62.5" y1="303.7" x2="60.2" y2="203.5" stroke="#e8e8e8" stroke-width="0.45"/>
<line x1="142.3" y1="302.7" x2="143.2" y2="202.4" stroke="#e8e8e8" stroke-width="0.45"/>
<line x1="72.2" y1="301.4" x2="70.2" y2="202.6" stroke="#e8e8e8" stroke-width="0.45"/>
<line x1="149.6" y1="306.9" x2="150.8" y2="203.9" stroke="#e8e8e8" stroke-width="0.45"/>
<line x1="81.8" y1="299.1" x2="80.3" y2="201.7" stroke="#e8e8e8" stroke-width="0.45"/>
<line x1="156.9" y1="311.1" x2="158.4" y2="205.4" stroke="#e8e8e8" stroke-width="0.45"/>
<line x1="91.5" y1="296.8" x2="90.3" y2="200.8" stroke="#e8e8e8" stroke-width="0.45"/>
<line x1="164.2" y1="315.3" x2="166.0" y2="206.8" stroke="#e8e8e8" stroke-width="0.45"/>
<line x1="101.2" y1="294.6" x2="100.4" y2="199.8" stroke="#e8e8e8" stroke-width="0.45"/>
<line x1="171.4" y1="319.6" x2="173.6" y2="208.3" stroke="#e8e8e8" stroke-width="0.45"/>
<line x1="110.8" y1="292.3" x2="110.4" y2="198.9" stroke="#e8e8e8" stroke-width="0.45"/>
<line x1="178.7" y1="323.8" x2="181.2" y2="209.8" stroke="#e8e8e8" stroke-width="0.45"/>
<line x1="33.1" y1="300.1" x2="120.5" y2="280.8" stroke="#e8e8e8" stroke-width="0.45"/>
<line x1="120.5" y1="280.8" x2="186.3" y2="316.3" stroke="#e8e8e8" stroke-width="0.45"/>
<line x1="32.8" y1="289.6" x2="120.5" y2="271.6" stroke="#e8e8e8" stroke-width="0.45"/>
<line x1="120.5" y1="271.6" x2="186.6" y2="304.6" stroke="#e8e8e8" stroke-width="0.45"/>
<line x1="32.5" y1="279.2" x2="120.5" y2="262.4" stroke="#e8e8e8" stroke-width="0.45"/>
<line x1="120.5" y1="262.4" x2="186.8" y2="293.0" stroke="#e8e8e8" stroke-width="0.45"/>
<line x1="32.1" y1="268.8" x2="120.5" y2="253.2" stroke="#e8e8e8" stroke-width="0.45"/>
<line x1="120.5" y1="253.2" x2="187.1" y2="281.3" stroke="#e8e8e8" stroke-width="0.45"/>
<line x1="31.8" y1="258.4" x2="120.5" y2="244.0" stroke="#e8e8e8" stroke-width="0.45"/>
<line x1="120.5" y1="244.0" x2="187.4" y2="269.6" stroke="#e8e8e8" stroke-width="0.45"/>
<line x1="31.4" y1="247.9" x2="120.5" y2="234.8" stroke="#e8e8e8" stroke-width="0.45"/>
<line x1="120.5" y1="234.8" x2="187.7" y2="257.9" stroke="#e8e8e8" stroke-width="0.45"/>
<line x1="31.1" y1="237.5" x2="120.5" y2="225.6" stroke="#e8e8e8" stroke-width="0.45"/>
<line x1="120.5" y1="225.6" x2="187.9" y2="246.3" stroke="#e8e8e8" stroke-width="0.45"/>
<line x1="30.7" y1="227.1" x2="120.5" y2="216.4" stroke="#e8e8e8" stroke-width="0.45"/>
<line x1="120.5" y1="216.4" x2="188.2" y2="234.6" stroke="#e8e8e8" stroke-width="0.45"/>
<line x1="30.4" y1="216.7" x2="120.5" y2="207.2" stroke="#e8e8e8" stroke-width="0.45"/>
<line x1="120.5" y1="207.2" x2="188.5" y2="222.9" stroke="#e8e8e8" stroke-width="0.45"/>
<line x1="30.0" y1="206.2" x2="120.5" y2="198.0" stroke="#8a8a8a" stroke-width="0.65" stroke-dasharray="2,1.2"/>
<line x1="120.5" y1="198.0" x2="188.8" y2="211.2" stroke="#8a8a8a" stroke-width="0.65" stroke-dasharray="2,1.2"/>
<line x1="120.5" y1="290.0" x2="120.5" y2="198.0" stroke="#aaa" stroke-width="0.60"/>
<line x1="186.0" y1="328.0" x2="188.8" y2="211.2" stroke="#8a8a8a" stroke-width="0.70" stroke-dasharray="2.5,1.5"/>
<line x1="33.5" y1="310.5" x2="120.5" y2="290.0" stroke="#aaa" stroke-width="0.50"/>
<line x1="120.5" y1="290.0" x2="186.0" y2="328.0" stroke="#aaa" stroke-width="0.50"/>
<g clip-path="url(#cc)">
<polygon points="40.0,309.5 97.5,347.5 179.4,324.0 115.5,293.6" fill="#80ff10"/>
<g filter="url(#blur)">
<polygon points="40.0,309.5 70.0,305.0 100.0,300.0 115.0,294.0 125.0,297.0 110.0,303.0 80.0,309.0 50.0,313.0" fill="#ffc000"/>
<polygon points="80.0,302.0 100.0,298.0 115.0,294.0 120.0,297.0 105.0,301.0 85.0,304.0" fill="#ff5000"/>
<polygon points="62.0,310.0 80.0,306.0 100.0,304.0 125.0,303.0 142.0,304.0 140.0,309.0 120.0,311.0 100.0,314.0 80.0,317.0 66.0,316.0" fill="#00e0ff"/>
<polygon points="68.0,311.0 85.0,307.5 105.0,306.0 130.0,305.5 138.0,307.0 130.0,310.0 105.0,312.0 85.0,315.0 72.0,315.0" fill="#0040ff"/>
<polygon points="80.0,309.5 95.0,308.0 104.0,308.5 100.0,311.5 84.0,312.5" fill="#0010b0"/>
<polygon points="115.0,307.0 130.0,306.0 138.0,307.0 130.0,309.5 118.0,310.0" fill="#5000d0"/>
<polygon points="63.0,316.0 80.0,315.0 100.0,314.0 120.0,312.0 140.0,310.0 152.0,312.0 150.0,318.0 130.0,320.0 100.0,321.5 75.0,322.0 64.0,320.0" fill="#ff1000"/>
<polygon points="113.0,311.5 128.0,310.5 140.0,311.0 138.0,315.5 118.0,316.0" fill="#900000"/>
<polygon points="60.0,322.0 100.0,321.5 150.0,318.0 165.0,320.0 140.0,325.0 100.0,326.0 65.0,326.0" fill="#ffc000"/>
<polygon points="73.0,323.0 82.0,322.5 90.0,325.0 87.0,330.0 76.0,330.0 72.0,327.0" fill="#00d8ff"/>
<polygon points="77.0,325.0 83.0,324.8 85.0,327.3 79.0,328.3" fill="#2050ff"/>
<polygon points="90.0,336.0 110.0,333.0 140.0,330.0 135.0,336.0 110.0,339.0 92.0,340.0" fill="#ffa000"/>
<polygon points="90.0,341.0 110.0,338.0 140.0,335.0 135.0,340.0 110.0,344.0 95.0,347.0" fill="#2060ff"/>
<polygon points="166.0,322.0 179.4,323.6 174.0,326.0 165.0,327.0" fill="#00e0ff"/>
<polygon points="140.0,320.0 160.0,317.0 170.0,320.0 155.0,324.0" fill="#ffff00"/>
</g></g>
<line x1="30.0" y1="206.2" x2="33.5" y2="310.5" stroke="#555" stroke-width="0.60"/>
<line x1="33.5" y1="310.5" x2="92.0" y2="349.0" stroke="#555" stroke-width="0.60"/>
<line x1="92.0" y1="349.0" x2="97.0" y2="348.5" stroke="#555" stroke-width="0.60"/>
<line x1="97.0" y1="348.5" x2="180.4" y2="324.8" stroke="#777" stroke-width="0.45"/>
<line x1="180.4" y1="324.8" x2="186.0" y2="328.0" stroke="#888" stroke-width="0.45"/>
<line x1="30.1" y1="208.0" x2="31.9" y2="208.0" stroke="#555" stroke-width="0.50"/>
<text x="28.6" y="210.6" font-size="7.40" text-anchor="end">0.68</text>
<line x1="30.5" y1="220.0" x2="32.3" y2="220.0" stroke="#555" stroke-width="0.50"/>
<text x="29.0" y="222.6" font-size="7.40" text-anchor="end">0.64</text>
<line x1="30.9" y1="231.9" x2="32.7" y2="231.9" stroke="#555" stroke-width="0.50"/>
<text x="29.4" y="234.5" font-size="7.40" text-anchor="end">0.60</text>
<line x1="31.3" y1="243.9" x2="33.1" y2="243.9" stroke="#555" stroke-width="0.50"/>
<text x="29.8" y="246.5" font-size="7.40" text-anchor="end">0.56</text>
<line x1="31.7" y1="255.9" x2="33.5" y2="255.9" stroke="#555" stroke-width="0.50"/>
<text x="30.2" y="258.5" font-size="7.40" text-anchor="end">0.52</text>
<line x1="32.1" y1="267.9" x2="33.9" y2="267.9" stroke="#555" stroke-width="0.50"/>
<text x="30.6" y="270.5" font-size="7.40" text-anchor="end">0.48</text>
<line x1="32.5" y1="279.8" x2="34.3" y2="279.8" stroke="#555" stroke-width="0.50"/>
<text x="31.0" y="282.4" font-size="7.40" text-anchor="end">0.44</text>
<line x1="32.9" y1="291.8" x2="34.7" y2="291.8" stroke="#555" stroke-width="0.50"/>
<text x="31.4" y="294.4" font-size="7.40" text-anchor="end">0.40</text>
<line x1="33.3" y1="303.8" x2="35.1" y2="303.8" stroke="#555" stroke-width="0.50"/>
<text x="31.8" y="306.4" font-size="7.40" text-anchor="end">0.36</text>
<line x1="36.4" y1="312.4" x2="35.7" y2="313.5" stroke="#555" stroke-width="0.40"/>
<text x="0.0" y="0.0" font-size="5.40" text-anchor="middle" transform="translate(31.1 315.3) rotate(33.3)">1</text>
<line x1="42.3" y1="316.3" x2="41.6" y2="317.4" stroke="#555" stroke-width="0.40"/>
<text x="0.0" y="0.0" font-size="5.40" text-anchor="middle" transform="translate(36.9 319.2) rotate(33.3)">2</text>
<line x1="48.1" y1="320.1" x2="47.4" y2="321.2" stroke="#555" stroke-width="0.40"/>
<text x="0.0" y="0.0" font-size="5.40" text-anchor="middle" transform="translate(42.8 323.0) rotate(33.3)">3</text>
<line x1="54.0" y1="324.0" x2="53.3" y2="325.1" stroke="#555" stroke-width="0.40"/>
<text x="0.0" y="0.0" font-size="5.40" text-anchor="middle" transform="translate(48.6 326.9) rotate(33.3)">4</text>
<line x1="59.8" y1="327.8" x2="59.1" y2="328.9" stroke="#555" stroke-width="0.40"/>
<text x="0.0" y="0.0" font-size="5.40" text-anchor="middle" transform="translate(54.5 330.7) rotate(33.3)">5</text>
<line x1="65.7" y1="331.7" x2="65.0" y2="332.8" stroke="#555" stroke-width="0.40"/>
<text x="0.0" y="0.0" font-size="5.40" text-anchor="middle" transform="translate(60.3 334.6) rotate(33.3)">6</text>
<line x1="71.5" y1="335.5" x2="70.8" y2="336.6" stroke="#555" stroke-width="0.40"/>
<text x="0.0" y="0.0" font-size="5.40" text-anchor="middle" transform="translate(66.2 338.4) rotate(33.3)">7</text>
<line x1="77.4" y1="339.4" x2="76.7" y2="340.5" stroke="#555" stroke-width="0.40"/>
<text x="0.0" y="0.0" font-size="5.40" text-anchor="middle" transform="translate(72.0 342.3) rotate(33.3)">8</text>
<line x1="83.2" y1="343.2" x2="82.5" y2="344.3" stroke="#555" stroke-width="0.40"/>
<text x="0.0" y="0.0" font-size="5.40" text-anchor="middle" transform="translate(77.9 346.1) rotate(33.3)">9</text>
<line x1="89.1" y1="347.1" x2="88.4" y2="348.2" stroke="#555" stroke-width="0.40"/>
<text x="0.0" y="0.0" font-size="5.40" text-anchor="middle" transform="translate(83.7 350.0) rotate(33.3)">10</text>
<text x="0.0" y="0.0" font-size="5.80" text-anchor="middle" transform="translate(102.4 350.6) rotate(-80)">20</text>
<text x="0.0" y="0.0" font-size="5.80" text-anchor="middle" transform="translate(152.4 335.0) rotate(-80)">50</text>
<text x="0.0" y="0.0" font-size="5.80" text-anchor="middle" transform="translate(183.7 326.5) rotate(-80)">70</text>
<text x="0.0" y="0.0" font-size="7.20" text-anchor="middle" transform="translate(42.4 334.0) rotate(34.9) skewX(-12)" dy="2.4" textLength="45.4" lengthAdjust="spacingAndGlyphs">Storage days (d)</text>
<text x="0.0" y="0.0" font-size="8.20" text-anchor="middle" transform="translate(150.2 343.1) skewY(-15.4)" dy="2.5" textLength="65.5" lengthAdjust="spacingAndGlyphs">Oxygen content (%)</text>
<text x="7.4" y="267.0" font-size="10.50" text-anchor="middle" transform="rotate(90 7.4 267.0)" textLength="80.0" lengthAdjust="spacingAndGlyphs">Cohesiveness(g.sec)</text>
<polygon points="111.2,234.7 115.0,230.0 118.8,225.3 122.5,222.5 126.2,216.9 130.0,213.1 133.0,211.0 135.6,210.3 139.4,210.9 142.2,213.1 145.0,218.8 147.8,226.2 149.7,233.8 151.6,241.2 153.4,248.8 155.3,254.4 163.8,255.3 165.6,260.0 167.5,264.7 170.3,270.3 179.7,270.9 175.0,272.2 156.2,276.9 141.2,281.0 128.1,286.2 118.8,290.0 110.0,294.0 103.0,298.0 98.8,302.5 100.0,290.0 105.0,270.0 110.0,250.0" fill="url(#g17)"/>
<polygon points="39.5,245.0 45.1,246.9 50.8,244.0 55.0,242.0 60.1,240.3 65.0,238.3 69.5,236.6 74.0,235.3 78.9,234.3 84.5,233.8 88.0,232.8 92.0,231.9 99.5,232.2 107.0,233.4 112.6,233.8 116.0,236.0 120.0,245.0 124.0,260.0 127.0,286.7 118.8,290.0 110.0,294.0 103.0,298.0 98.8,302.5 96.0,296.0 93.9,290.0 90.1,281.6 86.4,263.8 83.6,259.0 80.8,269.4 76.4,274.6 69.5,272.2 65.8,260.0 63.0,254.8 57.3,260.0 50.8,258.5 45.1,246.9" fill="url(#g18)"/>
<polygon points="62.0,250.0 69.5,245.0 78.9,242.2 88.2,239.8 97.6,239.4 103.2,240.3 110.8,244.4 118.2,249.7 125.0,258.0 127.0,286.7 118.8,290.0 110.0,294.0 103.0,298.0 98.8,302.5 96.0,296.0 93.9,290.0 90.1,281.6 86.4,263.8 83.6,259.0 80.8,269.4 76.4,274.6 69.5,272.2 65.8,260.0" fill="url(#g19)"/>
<circle cx="39.5" cy="245.0" r="1.25" fill="#f01010"/>
<circle cx="45.1" cy="246.9" r="1.25" fill="#f01010"/>
<circle cx="50.8" cy="258.5" r="1.25" fill="#f01010"/>
<circle cx="57.3" cy="260.0" r="1.25" fill="#f01010"/>
<circle cx="63.0" cy="254.8" r="1.25" fill="#f01010"/>
<circle cx="69.5" cy="272.2" r="1.25" fill="#f01010"/>
<circle cx="76.4" cy="274.6" r="1.25" fill="#f01010"/>
<circle cx="83.6" cy="259.0" r="1.25" fill="#f01010"/>
<circle cx="90.1" cy="281.6" r="1.25" fill="#f01010"/>
<circle cx="98.8" cy="302.5" r="1.25" fill="#f01010"/>
<circle cx="84.5" cy="233.8" r="1.25" fill="#f01010"/>
<circle cx="103.2" cy="240.3" r="1.25" fill="#f01010"/>
<circle cx="110.8" cy="244.4" r="1.25" fill="#f01010"/>
<circle cx="118.2" cy="249.7" r="1.25" fill="#f01010"/>
<circle cx="125.3" cy="259.0" r="1.25" fill="#f01010"/>
<circle cx="133.8" cy="258.7" r="1.25" fill="#f01010"/>
<circle cx="155.7" cy="254.8" r="1.25" fill="#f01010"/>
<circle cx="163.8" cy="255.5" r="1.25" fill="#f01010"/>
<circle cx="171.0" cy="270.9" r="1.25" fill="#f01010"/>
<circle cx="179.7" cy="270.9" r="1.25" fill="#f01010"/>
<circle cx="141.6" cy="281.0" r="1.25" fill="#f01010"/>
<text x="37.5" y="213.0" font-size="7.20" text-anchor="start">(c)</text>
<rect x="195.25" y="197.25" width="8.50" height="159.25" fill="url(#g20)"/>
<line x1="204.6" y1="197.2" x2="205.9" y2="197.2" stroke="#666" stroke-width="0.50"/>
<text x="207.8" y="199.2" font-size="5.60" text-anchor="start">0.6720</text>
<line x1="204.6" y1="213.2" x2="205.9" y2="213.2" stroke="#666" stroke-width="0.50"/>
<text x="207.8" y="215.1" font-size="5.60" text-anchor="start">0.6481</text>
<line x1="204.6" y1="229.1" x2="205.9" y2="229.1" stroke="#666" stroke-width="0.50"/>
<text x="207.8" y="231.0" font-size="5.60" text-anchor="start">0.6242</text>
<line x1="204.6" y1="245.0" x2="205.9" y2="245.0" stroke="#666" stroke-width="0.50"/>
<text x="207.8" y="246.9" font-size="5.60" text-anchor="start">0.6003</text>
<line x1="204.6" y1="260.9" x2="205.9" y2="260.9" stroke="#666" stroke-width="0.50"/>
<text x="207.8" y="262.8" font-size="5.60" text-anchor="start">0.5764</text>
<line x1="204.6" y1="276.9" x2="205.9" y2="276.9" stroke="#666" stroke-width="0.50"/>
<text x="207.8" y="278.8" font-size="5.60" text-anchor="start">0.5525</text>
<line x1="204.6" y1="292.8" x2="205.9" y2="292.8" stroke="#666" stroke-width="0.50"/>
<text x="207.8" y="294.7" font-size="5.60" text-anchor="start">0.5286</text>
<line x1="204.6" y1="308.7" x2="205.9" y2="308.7" stroke="#666" stroke-width="0.50"/>
<text x="207.8" y="310.6" font-size="5.60" text-anchor="start">0.5047</text>
<line x1="204.6" y1="324.6" x2="205.9" y2="324.6" stroke="#666" stroke-width="0.50"/>
<text x="207.8" y="326.5" font-size="5.60" text-anchor="start">0.4808</text>
<line x1="204.6" y1="340.6" x2="205.9" y2="340.6" stroke="#666" stroke-width="0.50"/>
<text x="207.8" y="342.5" font-size="5.60" text-anchor="start">0.4569</text>
<line x1="204.6" y1="356.5" x2="205.9" y2="356.5" stroke="#666" stroke-width="0.50"/>
<text x="207.8" y="358.4" font-size="5.60" text-anchor="start">0.4330</text>
<line x1="294.8" y1="307.8" x2="291.7" y2="204.2" stroke="#e8e8e8" stroke-width="0.45"/>
<line x1="379.8" y1="294.1" x2="382.1" y2="199.8" stroke="#e8e8e8" stroke-width="0.45"/>
<line x1="304.6" y1="305.6" x2="302.1" y2="203.5" stroke="#e8e8e8" stroke-width="0.45"/>
<line x1="386.6" y1="298.2" x2="389.2" y2="201.4" stroke="#e8e8e8" stroke-width="0.45"/>
<line x1="314.3" y1="303.3" x2="312.5" y2="202.8" stroke="#e8e8e8" stroke-width="0.45"/>
<line x1="393.3" y1="302.3" x2="396.2" y2="203.0" stroke="#e8e8e8" stroke-width="0.45"/>
<line x1="324.1" y1="301.1" x2="322.9" y2="202.0" stroke="#e8e8e8" stroke-width="0.45"/>
<line x1="400.1" y1="306.4" x2="403.3" y2="204.6" stroke="#e8e8e8" stroke-width="0.45"/>
<line x1="333.9" y1="298.9" x2="333.3" y2="201.2" stroke="#e8e8e8" stroke-width="0.45"/>
<line x1="406.9" y1="310.6" x2="410.4" y2="206.2" stroke="#e8e8e8" stroke-width="0.45"/>
<line x1="343.7" y1="296.7" x2="343.8" y2="200.5" stroke="#e8e8e8" stroke-width="0.45"/>
<line x1="413.7" y1="314.7" x2="417.5" y2="207.8" stroke="#e8e8e8" stroke-width="0.45"/>
<line x1="353.4" y1="294.4" x2="354.2" y2="199.8" stroke="#e8e8e8" stroke-width="0.45"/>
<line x1="420.4" y1="318.8" x2="424.6" y2="209.3" stroke="#e8e8e8" stroke-width="0.45"/>
<line x1="363.2" y1="292.2" x2="364.6" y2="199.0" stroke="#e8e8e8" stroke-width="0.45"/>
<line x1="427.2" y1="322.9" x2="431.7" y2="210.9" stroke="#e8e8e8" stroke-width="0.45"/>
<line x1="284.6" y1="299.5" x2="373.2" y2="280.8" stroke="#e8e8e8" stroke-width="0.45"/>
<line x1="373.2" y1="280.8" x2="434.5" y2="315.6" stroke="#e8e8e8" stroke-width="0.45"/>
<line x1="284.2" y1="289.0" x2="373.4" y2="271.6" stroke="#e8e8e8" stroke-width="0.45"/>
<line x1="373.4" y1="271.6" x2="434.9" y2="304.1" stroke="#e8e8e8" stroke-width="0.45"/>
<line x1="283.9" y1="278.5" x2="373.6" y2="262.5" stroke="#e8e8e8" stroke-width="0.45"/>
<line x1="373.6" y1="262.5" x2="435.4" y2="292.6" stroke="#e8e8e8" stroke-width="0.45"/>
<line x1="283.5" y1="268.0" x2="373.8" y2="253.3" stroke="#e8e8e8" stroke-width="0.45"/>
<line x1="373.8" y1="253.3" x2="435.9" y2="281.2" stroke="#e8e8e8" stroke-width="0.45"/>
<line x1="283.1" y1="257.5" x2="374.0" y2="244.1" stroke="#e8e8e8" stroke-width="0.45"/>
<line x1="374.0" y1="244.1" x2="436.4" y2="269.8" stroke="#e8e8e8" stroke-width="0.45"/>
<line x1="282.8" y1="247.0" x2="374.2" y2="234.9" stroke="#e8e8e8" stroke-width="0.45"/>
<line x1="374.2" y1="234.9" x2="436.9" y2="258.3" stroke="#e8e8e8" stroke-width="0.45"/>
<line x1="282.4" y1="236.5" x2="374.4" y2="225.8" stroke="#e8e8e8" stroke-width="0.45"/>
<line x1="374.4" y1="225.8" x2="437.3" y2="246.9" stroke="#e8e8e8" stroke-width="0.45"/>
<line x1="282.0" y1="226.0" x2="374.6" y2="216.6" stroke="#e8e8e8" stroke-width="0.45"/>
<line x1="374.6" y1="216.6" x2="437.8" y2="235.4" stroke="#e8e8e8" stroke-width="0.45"/>
<line x1="281.6" y1="215.5" x2="374.8" y2="207.4" stroke="#e8e8e8" stroke-width="0.45"/>
<line x1="374.8" y1="207.4" x2="438.3" y2="223.9" stroke="#e8e8e8" stroke-width="0.45"/>
<line x1="281.2" y1="205.0" x2="375.0" y2="198.2" stroke="#8a8a8a" stroke-width="0.65" stroke-dasharray="2,1.2"/>
<line x1="375.0" y1="198.2" x2="438.8" y2="212.5" stroke="#8a8a8a" stroke-width="0.65" stroke-dasharray="2,1.2"/>
<line x1="373.0" y1="290.0" x2="375.0" y2="198.2" stroke="#aaa" stroke-width="0.60"/>
<line x1="434.0" y1="327.0" x2="438.8" y2="212.5" stroke="#8a8a8a" stroke-width="0.70" stroke-dasharray="2.5,1.5"/>
<line x1="285.0" y1="310.0" x2="373.0" y2="290.0" stroke="#aaa" stroke-width="0.50"/>
<line x1="373.0" y1="290.0" x2="434.0" y2="327.0" stroke="#aaa" stroke-width="0.50"/>
<g clip-path="url(#cd)">
<polygon points="295.0,308.0 339.4,347.5 431.0,325.0 369.2,293.6" fill="#d8ff00"/>
<g filter="url(#blur)">
<polygon points="350.0,316.0 380.0,310.0 400.0,308.0 428.0,326.0 400.0,331.0 370.0,338.0 350.0,340.0" fill="#50ff40"/>
<polygon points="330.0,300.0 350.0,297.0 371.0,294.0 380.0,298.0 360.0,301.0 340.0,303.0" fill="#40e0ff"/>
<polygon points="295.0,308.0 310.0,304.0 326.0,301.0 330.0,303.0 315.0,307.0 300.0,311.0" fill="#ff1000"/>
<polygon points="298.0,313.0 315.0,309.0 335.0,305.5 355.0,303.5 368.0,304.0 370.0,309.0 355.0,313.0 335.0,315.5 315.0,318.0 303.0,318.0" fill="#ff1000"/>
<polygon points="319.0,309.5 335.0,307.0 352.0,305.5 364.0,306.0 362.0,309.5 345.0,311.5 330.0,313.0 320.0,313.0" fill="#8a0000"/>
<polygon points="305.0,320.0 318.0,318.5 332.0,319.0 330.0,323.5 315.0,324.5 306.0,324.0" fill="#ff1000"/>
<polygon points="320.0,328.0 333.0,326.5 345.0,328.0 343.0,333.0 330.0,334.0 322.0,332.5" fill="#ff1000"/>
<polygon points="356.0,318.0 375.0,316.0 395.0,318.0 401.0,326.0 395.0,334.0 375.0,336.0 358.0,332.0" fill="#20d0ff"/>
<polygon points="365.0,323.0 380.0,321.0 392.0,324.0 388.0,331.0 372.0,332.0" fill="#2060ff"/>
<polygon points="371.0,310.5 385.0,309.5 397.5,311.0 394.0,315.0 378.0,315.6" fill="#5010e0"/>
<polygon points="339.0,338.0 355.0,336.0 367.5,338.0 360.0,345.0 345.0,347.5" fill="#ff1000"/>
<polygon points="332.0,342.0 341.0,341.0 341.0,349.0 335.0,348.0" fill="#1040ff"/>
<polygon points="403.0,316.5 410.0,315.5 414.0,318.5 408.0,321.0" fill="#ff6000"/>
</g></g>
<line x1="281.2" y1="205.0" x2="285.0" y2="310.0" stroke="#555" stroke-width="0.60"/>
<line x1="285.0" y1="310.0" x2="337.0" y2="350.0" stroke="#555" stroke-width="0.60"/>
<line x1="337.0" y1="350.0" x2="338.9" y2="348.5" stroke="#555" stroke-width="0.60"/>
<line x1="338.9" y1="348.5" x2="432.0" y2="325.8" stroke="#777" stroke-width="0.45"/>
<line x1="432.0" y1="325.8" x2="434.0" y2="327.0" stroke="#888" stroke-width="0.45"/>
<line x1="281.6" y1="214.2" x2="283.4" y2="214.2" stroke="#555" stroke-width="0.50"/>
<text x="280.1" y="216.8" font-size="7.40" text-anchor="end">175</text>
<line x1="282.0" y1="226.4" x2="283.8" y2="226.4" stroke="#555" stroke-width="0.50"/>
<text x="280.5" y="229.0" font-size="7.40" text-anchor="end">150</text>
<line x1="282.4" y1="238.6" x2="284.2" y2="238.6" stroke="#555" stroke-width="0.50"/>
<text x="280.9" y="241.2" font-size="7.40" text-anchor="end">125</text>
<line x1="282.9" y1="250.8" x2="284.7" y2="250.8" stroke="#555" stroke-width="0.50"/>
<text x="281.4" y="253.4" font-size="7.40" text-anchor="end">100</text>
<line x1="283.3" y1="263.0" x2="285.1" y2="263.0" stroke="#555" stroke-width="0.50"/>
<text x="281.8" y="265.6" font-size="7.40" text-anchor="end">75</text>
<line x1="283.8" y1="275.1" x2="285.6" y2="275.1" stroke="#555" stroke-width="0.50"/>
<text x="282.3" y="277.7" font-size="7.40" text-anchor="end">50</text>
<line x1="284.2" y1="287.3" x2="286.0" y2="287.3" stroke="#555" stroke-width="0.50"/>
<text x="282.7" y="289.9" font-size="7.40" text-anchor="end">25</text>
<line x1="284.6" y1="299.5" x2="286.4" y2="299.5" stroke="#555" stroke-width="0.50"/>
<text x="283.1" y="302.1" font-size="7.40" text-anchor="end">0</text>
<line x1="287.6" y1="312.0" x2="286.8" y2="313.0" stroke="#555" stroke-width="0.40"/>
<text x="0.0" y="0.0" font-size="5.40" text-anchor="middle" transform="translate(282.2 315.0) rotate(37.6)">1</text>
<line x1="292.8" y1="316.0" x2="292.0" y2="317.0" stroke="#555" stroke-width="0.40"/>
<text x="0.0" y="0.0" font-size="5.40" text-anchor="middle" transform="translate(287.4 319.0) rotate(37.6)">2</text>
<line x1="298.0" y1="320.0" x2="297.2" y2="321.0" stroke="#555" stroke-width="0.40"/>
<text x="0.0" y="0.0" font-size="5.40" text-anchor="middle" transform="translate(292.6 323.0) rotate(37.6)">3</text>
<line x1="303.2" y1="324.0" x2="302.4" y2="325.0" stroke="#555" stroke-width="0.40"/>
<text x="0.0" y="0.0" font-size="5.40" text-anchor="middle" transform="translate(297.8 327.0) rotate(37.6)">4</text>
<line x1="308.4" y1="328.0" x2="307.6" y2="329.0" stroke="#555" stroke-width="0.40"/>
<text x="0.0" y="0.0" font-size="5.40" text-anchor="middle" transform="translate(303.0 331.0) rotate(37.6)">5</text>
<line x1="313.6" y1="332.0" x2="312.8" y2="333.0" stroke="#555" stroke-width="0.40"/>
<text x="0.0" y="0.0" font-size="5.40" text-anchor="middle" transform="translate(308.2 335.0) rotate(37.6)">6</text>
<line x1="318.8" y1="336.0" x2="318.0" y2="337.0" stroke="#555" stroke-width="0.40"/>
<text x="0.0" y="0.0" font-size="5.40" text-anchor="middle" transform="translate(313.4 339.0) rotate(37.6)">7</text>
<line x1="324.0" y1="340.0" x2="323.2" y2="341.0" stroke="#555" stroke-width="0.40"/>
<text x="0.0" y="0.0" font-size="5.40" text-anchor="middle" transform="translate(318.6 343.0) rotate(37.6)">8</text>
<line x1="329.2" y1="344.0" x2="328.4" y2="345.0" stroke="#555" stroke-width="0.40"/>
<text x="0.0" y="0.0" font-size="5.40" text-anchor="middle" transform="translate(323.8 347.0) rotate(37.6)">9</text>
<line x1="334.4" y1="348.0" x2="333.6" y2="349.0" stroke="#555" stroke-width="0.40"/>
<text x="0.0" y="0.0" font-size="5.40" text-anchor="middle" transform="translate(329.0 351.0) rotate(37.6)">10</text>
<text x="0.0" y="0.0" font-size="5.80" text-anchor="middle" transform="translate(346.4 349.6) rotate(-80)">20</text>
<text x="0.0" y="0.0" font-size="5.80" text-anchor="middle" transform="translate(401.0 337.5) rotate(-80)">50</text>
<text x="0.0" y="0.0" font-size="5.80" text-anchor="middle" transform="translate(433.5 329.4) rotate(-80)">70</text>
<text x="0.0" y="0.0" font-size="7.20" text-anchor="middle" transform="translate(289.0 332.8) rotate(39.8) skewX(-12)" dy="2.4" textLength="35.1" lengthAdjust="spacingAndGlyphs">Storage days (d)</text>
<text x="0.0" y="0.0" font-size="8.20" text-anchor="middle" transform="translate(398.2 344.4) skewY(-14.7)" dy="2.5" textLength="75.5" lengthAdjust="spacingAndGlyphs">Oxygen content (%)</text>
<text x="260.5" y="261.8" font-size="10.50" text-anchor="middle" transform="rotate(90 260.5 261.8)" textLength="51.6" lengthAdjust="spacingAndGlyphs">Adhesiveness</text>
<polygon points="290.6,213.1 296.2,216.9 301.9,223.4 307.5,229.0 313.1,227.2 318.8,223.4 326.2,216.9 333.8,210.3 339.4,208.4 345.0,210.3 352.5,216.0 360.0,226.2 365.6,234.7 369.4,228.1 373.1,224.4 376.0,223.0 379.4,221.6 383.1,220.6 387.8,224.4 391.6,230.0 393.4,237.5 394.4,248.8 395.3,260.0 396.2,266.6 392.0,280.0 380.0,284.0 360.0,276.0 340.0,262.0 330.0,255.0 320.0,248.0 310.0,242.0 300.0,236.0 293.0,228.0" fill="url(#g22)"/>
<polygon points="387.8,269.4 393.0,265.0 398.1,260.0 403.0,255.0 407.5,250.6 411.0,247.0 414.0,244.0 416.0,248.0 417.8,252.5 421.6,262.8 425.3,270.3 429.0,274.6 420.6,276.9 411.2,276.9 401.9,275.0" fill="url(#g23)"/>
<polygon points="377.0,285.0 389.0,283.0 390.0,287.0 382.0,289.0" fill="#5020e0"/>
<polygon points="290.6,213.1 296.2,216.9 301.9,223.4 305.0,228.0 310.0,238.0 320.0,245.0 335.0,255.0 341.2,258.1 338.0,270.0 334.0,282.0 329.5,274.6 323.0,268.0 317.4,263.2 312.0,266.0 306.8,268.6 304.0,258.0 302.0,250.0 299.5,256.0 296.8,260.5 293.5,240.0 291.5,225.0" fill="url(#g24)"/>
<polygon points="326.0,268.0 333.0,272.0 339.0,270.0 337.5,285.0 335.5,303.8 333.0,292.0 329.0,278.0" fill="url(#g25)"/>
<polygon points="341.2,258.1 346.0,254.5 352.5,252.5 358.0,253.0 363.8,254.4 370.0,258.1 379.4,263.8 387.8,269.4 395.0,272.0 392.0,278.0 385.0,283.0 370.0,286.0 355.0,287.0 345.0,285.0 338.0,280.0 337.0,270.0" fill="url(#g26)"/>
<circle cx="290.6" cy="213.1" r="1.25" fill="#f01010"/>
<circle cx="296.8" cy="260.5" r="1.25" fill="#f01010"/>
<circle cx="306.8" cy="268.6" r="1.25" fill="#f01010"/>
<circle cx="317.4" cy="263.2" r="1.25" fill="#f01010"/>
<circle cx="329.5" cy="274.6" r="1.25" fill="#f01010"/>
<circle cx="341.2" cy="258.1" r="1.25" fill="#f01010"/>
<circle cx="348.8" cy="243.5" r="1.25" fill="#f01010"/>
<circle cx="387.8" cy="269.4" r="1.25" fill="#f01010"/>
<circle cx="414.0" cy="244.0" r="1.25" fill="#f01010"/>
<circle cx="421.6" cy="262.8" r="1.25" fill="#f01010"/>
<circle cx="429.0" cy="274.6" r="1.25" fill="#f01010"/>
<circle cx="335.5" cy="303.8" r="1.25" fill="#f01010"/>
<circle cx="380.0" cy="288.0" r="1.25" fill="#f01010"/>
<text x="291.0" y="211.5" font-size="7.20" text-anchor="start">(d)</text>
<rect x="443.40" y="195.90" width="8.50" height="158.70" fill="url(#g27)"/>
<line x1="452.7" y1="195.9" x2="454.1" y2="195.9" stroke="#666" stroke-width="0.50"/>
<text x="456.5" y="197.8" font-size="5.60" text-anchor="start">184.5</text>
<line x1="452.7" y1="211.8" x2="454.1" y2="211.8" stroke="#666" stroke-width="0.50"/>
<text x="456.5" y="213.7" font-size="5.60" text-anchor="start">168.6</text>
<line x1="452.7" y1="227.6" x2="454.1" y2="227.6" stroke="#666" stroke-width="0.50"/>
<text x="456.5" y="229.5" font-size="5.60" text-anchor="start">152.7</text>
<line x1="452.7" y1="243.5" x2="454.1" y2="243.5" stroke="#666" stroke-width="0.50"/>
<text x="456.5" y="245.4" font-size="5.60" text-anchor="start">136.8</text>
<line x1="452.7" y1="259.4" x2="454.1" y2="259.4" stroke="#666" stroke-width="0.50"/>
<text x="456.5" y="261.3" font-size="5.60" text-anchor="start">120.9</text>
<line x1="452.7" y1="275.2" x2="454.1" y2="275.2" stroke="#666" stroke-width="0.50"/>
<text x="456.5" y="277.1" font-size="5.60" text-anchor="start">105.0</text>
<line x1="452.7" y1="291.1" x2="454.1" y2="291.1" stroke="#666" stroke-width="0.50"/>
<text x="456.5" y="293.0" font-size="5.60" text-anchor="start">89.10</text>
<line x1="452.7" y1="307.0" x2="454.1" y2="307.0" stroke="#666" stroke-width="0.50"/>
<text x="456.5" y="308.9" font-size="5.60" text-anchor="start">73.20</text>
<line x1="452.7" y1="322.9" x2="454.1" y2="322.9" stroke="#666" stroke-width="0.50"/>
<text x="456.5" y="324.8" font-size="5.60" text-anchor="start">57.30</text>
<line x1="452.7" y1="338.7" x2="454.1" y2="338.7" stroke="#666" stroke-width="0.50"/>
<text x="456.5" y="340.6" font-size="5.60" text-anchor="start">41.40</text>
<line x1="452.7" y1="354.6" x2="454.1" y2="354.6" stroke="#666" stroke-width="0.50"/>
<text x="456.5" y="356.5" font-size="5.60" text-anchor="start">25.50</text>
<line x1="38.4" y1="499.4" x2="37.1" y2="396.2" stroke="#e8e8e8" stroke-width="0.45"/>
<line x1="122.0" y1="482.6" x2="122.0" y2="387.8" stroke="#e8e8e8" stroke-width="0.45"/>
<line x1="47.8" y1="496.9" x2="46.6" y2="395.0" stroke="#e8e8e8" stroke-width="0.45"/>
<line x1="130.5" y1="486.1" x2="130.5" y2="389.3" stroke="#e8e8e8" stroke-width="0.45"/>
<line x1="57.2" y1="494.3" x2="56.2" y2="393.8" stroke="#e8e8e8" stroke-width="0.45"/>
<line x1="139.0" y1="489.7" x2="139.0" y2="390.8" stroke="#e8e8e8" stroke-width="0.45"/>
<line x1="66.6" y1="491.8" x2="65.7" y2="392.5" stroke="#e8e8e8" stroke-width="0.45"/>
<line x1="147.5" y1="493.2" x2="147.5" y2="392.4" stroke="#e8e8e8" stroke-width="0.45"/>
<line x1="75.9" y1="489.2" x2="75.3" y2="391.2" stroke="#e8e8e8" stroke-width="0.45"/>
<line x1="156.0" y1="496.8" x2="156.0" y2="393.9" stroke="#e8e8e8" stroke-width="0.45"/>
<line x1="85.3" y1="486.7" x2="84.8" y2="390.0" stroke="#e8e8e8" stroke-width="0.45"/>
<line x1="164.5" y1="500.3" x2="164.5" y2="395.4" stroke="#e8e8e8" stroke-width="0.45"/>
<line x1="94.7" y1="484.1" x2="94.4" y2="388.8" stroke="#e8e8e8" stroke-width="0.45"/>
<line x1="173.0" y1="503.9" x2="173.0" y2="396.9" stroke="#e8e8e8" stroke-width="0.45"/>
<line x1="104.1" y1="481.6" x2="103.9" y2="387.5" stroke="#e8e8e8" stroke-width="0.45"/>
<line x1="181.5" y1="507.4" x2="181.5" y2="398.5" stroke="#e8e8e8" stroke-width="0.45"/>
<line x1="28.9" y1="491.6" x2="113.5" y2="469.7" stroke="#e8e8e8" stroke-width="0.45"/>
<line x1="113.5" y1="469.7" x2="190.0" y2="499.9" stroke="#e8e8e8" stroke-width="0.45"/>
<line x1="28.7" y1="481.1" x2="113.5" y2="460.4" stroke="#e8e8e8" stroke-width="0.45"/>
<line x1="113.5" y1="460.4" x2="190.0" y2="488.8" stroke="#e8e8e8" stroke-width="0.45"/>
<line x1="28.6" y1="470.6" x2="113.5" y2="451.2" stroke="#e8e8e8" stroke-width="0.45"/>
<line x1="113.5" y1="451.2" x2="190.0" y2="477.7" stroke="#e8e8e8" stroke-width="0.45"/>
<line x1="28.4" y1="460.2" x2="113.5" y2="441.9" stroke="#e8e8e8" stroke-width="0.45"/>
<line x1="113.5" y1="441.9" x2="190.0" y2="466.6" stroke="#e8e8e8" stroke-width="0.45"/>
<line x1="28.2" y1="449.8" x2="113.5" y2="432.6" stroke="#e8e8e8" stroke-width="0.45"/>
<line x1="113.5" y1="432.6" x2="190.0" y2="455.5" stroke="#e8e8e8" stroke-width="0.45"/>
<line x1="28.1" y1="439.3" x2="113.5" y2="423.4" stroke="#e8e8e8" stroke-width="0.45"/>
<line x1="113.5" y1="423.4" x2="190.0" y2="444.4" stroke="#e8e8e8" stroke-width="0.45"/>
<line x1="27.9" y1="428.9" x2="113.5" y2="414.1" stroke="#e8e8e8" stroke-width="0.45"/>
<line x1="113.5" y1="414.1" x2="190.0" y2="433.3" stroke="#e8e8e8" stroke-width="0.45"/>
<line x1="27.8" y1="418.4" x2="113.5" y2="404.8" stroke="#e8e8e8" stroke-width="0.45"/>
<line x1="113.5" y1="404.8" x2="190.0" y2="422.2" stroke="#e8e8e8" stroke-width="0.45"/>
<line x1="27.6" y1="407.9" x2="113.5" y2="395.5" stroke="#e8e8e8" stroke-width="0.45"/>
<line x1="113.5" y1="395.5" x2="190.0" y2="411.1" stroke="#e8e8e8" stroke-width="0.45"/>
<line x1="27.5" y1="397.5" x2="113.5" y2="386.2" stroke="#8a8a8a" stroke-width="0.65" stroke-dasharray="2,1.2"/>
<line x1="113.5" y1="386.2" x2="190.0" y2="400.0" stroke="#8a8a8a" stroke-width="0.65" stroke-dasharray="2,1.2"/>
<line x1="113.5" y1="479.0" x2="113.5" y2="386.2" stroke="#aaa" stroke-width="0.60"/>
<line x1="190.0" y1="511.0" x2="190.0" y2="400.0" stroke="#8a8a8a" stroke-width="0.70" stroke-dasharray="2.5,1.5"/>
<line x1="29.0" y1="502.0" x2="113.5" y2="479.0" stroke="#aaa" stroke-width="0.50"/>
<line x1="113.5" y1="479.0" x2="190.0" y2="511.0" stroke="#aaa" stroke-width="0.50"/>
<g clip-path="url(#ce)">
<polygon points="40.0,500.5 106.2,535.6 180.0,510.5 107.5,483.4" fill="#70ff20"/>
<g filter="url(#blur)">
<polygon points="42.0,501.0 70.0,493.0 97.0,487.0 115.0,485.0 135.0,488.0 120.0,493.0 100.0,497.0 80.0,502.0 55.0,507.0" fill="#ffee00"/>
<polygon points="48.0,499.0 70.0,492.0 95.0,486.0 112.0,483.5 125.0,485.5 100.0,491.0 75.0,497.0 52.0,502.0" fill="#ff1000"/>
<polygon points="56.0,511.0 66.0,510.0 74.0,513.0 70.0,516.5 58.0,515.0" fill="#20e0ff"/>
<polygon points="84.0,521.0 110.0,518.0 144.0,514.0 150.0,520.0 130.0,527.0 100.0,532.0 88.0,530.0" fill="#ffee00"/>
<polygon points="83.0,502.0 100.0,499.5 120.0,498.0 144.0,499.5 140.0,505.0 120.0,506.0 100.0,507.0 85.0,508.0" fill="#ff1000"/>
<polygon points="85.0,503.0 100.0,501.5 106.0,503.0 104.0,506.5 88.0,507.0" fill="#900000"/>
<polygon points="76.0,506.0 90.0,505.5 100.0,508.0 110.0,511.0 118.0,514.0 117.0,519.0 100.0,520.5 80.0,520.0 72.5,516.0" fill="#ff1000"/>
<polygon points="80.0,513.5 92.0,513.0 99.0,515.0 97.0,518.5 82.0,518.5" fill="#900000"/>
<polygon points="108.0,501.0 125.0,499.0 150.0,499.0 168.0,503.0 172.0,509.0 150.0,510.0 125.0,510.0 110.0,510.0" fill="#20e0ff"/>
<polygon points="110.0,503.0 125.0,501.5 150.0,501.5 166.0,504.0 160.0,508.5 130.0,508.0 112.0,508.0" fill="#6000e0"/>
<polygon points="121.0,517.0 135.0,515.0 155.0,514.0 150.0,519.5 135.0,523.0 122.0,524.0" fill="#ff2000"/>
<polygon points="87.5,530.0 98.0,528.0 106.0,529.0 106.0,535.0 95.0,534.0" fill="#1040ff"/>
</g></g>
<line x1="27.5" y1="397.5" x2="29.0" y2="502.0" stroke="#555" stroke-width="0.60"/>
<line x1="29.0" y1="502.0" x2="102.0" y2="539.0" stroke="#555" stroke-width="0.60"/>
<line x1="102.0" y1="539.0" x2="105.8" y2="536.6" stroke="#555" stroke-width="0.60"/>
<line x1="105.8" y1="536.6" x2="181.0" y2="511.3" stroke="#777" stroke-width="0.45"/>
<line x1="181.0" y1="511.3" x2="190.0" y2="511.0" stroke="#888" stroke-width="0.45"/>
<line x1="27.6" y1="402.9" x2="29.4" y2="402.9" stroke="#555" stroke-width="0.50"/>
<text x="26.1" y="405.5" font-size="7.40" text-anchor="end">120</text>
<line x1="27.8" y1="418.2" x2="29.6" y2="418.2" stroke="#555" stroke-width="0.50"/>
<text x="26.3" y="420.9" font-size="7.40" text-anchor="end">100</text>
<line x1="28.0" y1="433.6" x2="29.8" y2="433.6" stroke="#555" stroke-width="0.50"/>
<text x="26.5" y="436.2" font-size="7.40" text-anchor="end">80</text>
<line x1="28.2" y1="448.9" x2="30.0" y2="448.9" stroke="#555" stroke-width="0.50"/>
<text x="26.7" y="451.6" font-size="7.40" text-anchor="end">60</text>
<line x1="28.5" y1="464.3" x2="30.3" y2="464.3" stroke="#555" stroke-width="0.50"/>
<text x="27.0" y="466.9" font-size="7.40" text-anchor="end">40</text>
<line x1="28.7" y1="479.6" x2="30.5" y2="479.6" stroke="#555" stroke-width="0.50"/>
<text x="27.2" y="482.2" font-size="7.40" text-anchor="end">20</text>
<line x1="28.9" y1="495.0" x2="30.7" y2="495.0" stroke="#555" stroke-width="0.50"/>
<text x="27.4" y="497.6" font-size="7.40" text-anchor="end">0</text>
<line x1="32.6" y1="503.9" x2="32.1" y2="505.0" stroke="#555" stroke-width="0.40"/>
<text x="0.0" y="0.0" font-size="5.40" text-anchor="middle" transform="translate(27.4 507.2) rotate(26.9)">1</text>
<line x1="40.0" y1="507.6" x2="39.4" y2="508.7" stroke="#555" stroke-width="0.40"/>
<text x="0.0" y="0.0" font-size="5.40" text-anchor="middle" transform="translate(34.7 510.9) rotate(26.9)">2</text>
<line x1="47.2" y1="511.2" x2="46.7" y2="512.4" stroke="#555" stroke-width="0.40"/>
<text x="0.0" y="0.0" font-size="5.40" text-anchor="middle" transform="translate(42.0 514.6) rotate(26.9)">3</text>
<line x1="54.5" y1="515.0" x2="54.0" y2="516.1" stroke="#555" stroke-width="0.40"/>
<text x="0.0" y="0.0" font-size="5.40" text-anchor="middle" transform="translate(49.3 518.3) rotate(26.9)">4</text>
<line x1="61.9" y1="518.6" x2="61.3" y2="519.8" stroke="#555" stroke-width="0.40"/>
<text x="0.0" y="0.0" font-size="5.40" text-anchor="middle" transform="translate(56.6 522.0) rotate(26.9)">5</text>
<line x1="69.2" y1="522.4" x2="68.6" y2="523.5" stroke="#555" stroke-width="0.40"/>
<text x="0.0" y="0.0" font-size="5.40" text-anchor="middle" transform="translate(63.9 525.7) rotate(26.9)">6</text>
<line x1="76.5" y1="526.0" x2="75.9" y2="527.2" stroke="#555" stroke-width="0.40"/>
<text x="0.0" y="0.0" font-size="5.40" text-anchor="middle" transform="translate(71.2 529.4) rotate(26.9)">7</text>
<line x1="83.8" y1="529.8" x2="83.2" y2="530.9" stroke="#555" stroke-width="0.40"/>
<text x="0.0" y="0.0" font-size="5.40" text-anchor="middle" transform="translate(78.5 533.1) rotate(26.9)">8</text>
<line x1="91.0" y1="533.5" x2="90.5" y2="534.6" stroke="#555" stroke-width="0.40"/>
<text x="0.0" y="0.0" font-size="5.40" text-anchor="middle" transform="translate(85.8 536.8) rotate(26.9)">9</text>
<line x1="98.3" y1="537.1" x2="97.8" y2="538.3" stroke="#555" stroke-width="0.40"/>
<text x="0.0" y="0.0" font-size="5.40" text-anchor="middle" transform="translate(93.1 540.5) rotate(26.9)">10</text>
<text x="0.0" y="0.0" font-size="5.80" text-anchor="middle" transform="translate(111.8 538.0) rotate(-80)">20</text>
<text x="0.0" y="0.0" font-size="5.80" text-anchor="middle" transform="translate(158.7 522.2) rotate(-80)">50</text>
<text x="0.0" y="0.0" font-size="5.80" text-anchor="middle" transform="translate(185.2 512.7) rotate(-80)">70</text>
<text x="0.0" y="0.0" font-size="7.20" text-anchor="middle" transform="translate(46.2 524.2) rotate(24.5) skewX(-12)" dy="2.4" textLength="49.4" lengthAdjust="spacingAndGlyphs">Storage days (d)</text>
<text x="0.0" y="0.0" font-size="8.20" text-anchor="middle" transform="translate(158.0 532.0) skewY(-14.4)" dy="2.5" textLength="66.0" lengthAdjust="spacingAndGlyphs">Oxygen content (%)</text>
<text x="7.5" y="453.2" font-size="10.50" text-anchor="middle" transform="rotate(90 7.5 453.2)" textLength="43.0" lengthAdjust="spacingAndGlyphs">Chewiness</text>
<polygon points="95.0,407.0 97.5,409.4 101.2,407.5 105.0,406.6 110.6,406.0 116.2,406.6 120.0,408.0 124.4,410.6 130.0,418.1 134.7,427.5 138.4,435.0 139.4,442.5 139.0,460.0 120.0,470.0 100.0,476.0 95.0,470.0" fill="url(#g29)"/>
<polygon points="76.0,407.5 80.6,407.5 84.4,404.7 88.1,406.6 91.9,404.7 94.7,405.6 97.5,409.4 98.0,430.0 99.0,450.0 100.0,476.0 85.0,473.0 75.0,468.0 72.0,445.0" fill="url(#g30)"/>
<polygon points="73.0,458.0 82.0,460.0 83.0,472.0 80.0,483.0 77.0,475.0" fill="url(#g31)"/>
<polygon points="92.0,468.0 102.0,466.0 105.0,474.0 101.0,484.0 98.8,488.8 96.0,480.0" fill="url(#g32)"/>
<polygon points="113.1,450.0 120.6,446.2 128.1,440.6 137.5,435.0 142.0,433.5 146.9,432.8 150.0,433.5 154.4,436.9 160.0,444.4 165.6,453.8 171.2,461.2 175.0,466.9 179.7,474.4 170.0,471.0 160.0,470.0 150.0,472.0 140.0,473.0 125.0,476.5 113.0,477.0 108.0,470.0" fill="url(#g33)"/>
<polygon points="37.5,454.0 44.0,452.5 46.0,447.0 47.7,440.9 51.5,430.7 55.4,421.8 60.5,412.9 65.5,405.3 69.4,399.5 73.2,396.4 76.0,396.8 78.3,398.3 81.0,400.3 83.4,402.7 82.5,408.0 80.8,415.5 77.0,428.2 75.0,436.0 73.2,444.7 70.0,455.0 65.6,467.5 58.0,460.4 51.0,458.5" fill="url(#g34)"/>
<circle cx="37.5" cy="454.0" r="1.25" fill="#f01010"/>
<circle cx="44.0" cy="452.5" r="1.25" fill="#f01010"/>
<circle cx="51.0" cy="458.5" r="1.25" fill="#f01010"/>
<circle cx="58.0" cy="460.4" r="1.25" fill="#f01010"/>
<circle cx="65.6" cy="467.5" r="1.25" fill="#f01010"/>
<circle cx="72.8" cy="445.6" r="1.25" fill="#f01010"/>
<circle cx="89.0" cy="451.6" r="1.25" fill="#f01010"/>
<circle cx="102.8" cy="407.2" r="1.25" fill="#f01010"/>
<circle cx="118.8" cy="446.2" r="1.25" fill="#f01010"/>
<circle cx="146.9" cy="432.8" r="1.25" fill="#f01010"/>
<circle cx="136.6" cy="468.4" r="1.25" fill="#f01010"/>
<circle cx="161.9" cy="466.9" r="1.25" fill="#f01010"/>
<circle cx="179.7" cy="474.4" r="1.25" fill="#f01010"/>
<circle cx="111.2" cy="477.2" r="1.25" fill="#f01010"/>
<circle cx="80.0" cy="483.0" r="1.25" fill="#f01010"/>
<circle cx="107.0" cy="485.0" r="1.25" fill="#f01010"/>
<text x="36.0" y="403.5" font-size="7.20" text-anchor="start">(e)</text>
<rect x="194.10" y="384.00" width="8.65" height="158.50" fill="url(#g35)"/>
<line x1="203.6" y1="384.0" x2="204.9" y2="384.0" stroke="#666" stroke-width="0.50"/>
<text x="206.9" y="385.9" font-size="5.60" text-anchor="start">123.5</text>
<line x1="203.6" y1="399.9" x2="204.9" y2="399.9" stroke="#666" stroke-width="0.50"/>
<text x="206.9" y="401.8" font-size="5.60" text-anchor="start">113.6</text>
<line x1="203.6" y1="415.7" x2="204.9" y2="415.7" stroke="#666" stroke-width="0.50"/>
<text x="206.9" y="417.6" font-size="5.60" text-anchor="start">103.6</text>
<line x1="203.6" y1="431.6" x2="204.9" y2="431.6" stroke="#666" stroke-width="0.50"/>
<text x="206.9" y="433.4" font-size="5.60" text-anchor="start">93.65</text>
<line x1="203.6" y1="447.4" x2="204.9" y2="447.4" stroke="#666" stroke-width="0.50"/>
<text x="206.9" y="449.3" font-size="5.60" text-anchor="start">83.70</text>
<line x1="203.6" y1="463.2" x2="204.9" y2="463.2" stroke="#666" stroke-width="0.50"/>
<text x="206.9" y="465.1" font-size="5.60" text-anchor="start">73.75</text>
<line x1="203.6" y1="479.1" x2="204.9" y2="479.1" stroke="#666" stroke-width="0.50"/>
<text x="206.9" y="481.0" font-size="5.60" text-anchor="start">63.80</text>
<line x1="203.6" y1="494.9" x2="204.9" y2="494.9" stroke="#666" stroke-width="0.50"/>
<text x="206.9" y="496.8" font-size="5.60" text-anchor="start">53.85</text>
<line x1="203.6" y1="510.8" x2="204.9" y2="510.8" stroke="#666" stroke-width="0.50"/>
<text x="206.9" y="512.7" font-size="5.60" text-anchor="start">43.90</text>
<line x1="203.6" y1="526.6" x2="204.9" y2="526.6" stroke="#666" stroke-width="0.50"/>
<text x="206.9" y="528.5" font-size="5.60" text-anchor="start">33.95</text>
<line x1="203.6" y1="542.5" x2="204.9" y2="542.5" stroke="#666" stroke-width="0.50"/>
<text x="206.9" y="544.4" font-size="5.60" text-anchor="start">24.00</text>
<line x1="289.3" y1="499.4" x2="287.1" y2="395.1" stroke="#e8e8e8" stroke-width="0.45"/>
<line x1="371.8" y1="482.6" x2="372.1" y2="387.6" stroke="#e8e8e8" stroke-width="0.45"/>
<line x1="298.6" y1="496.9" x2="296.7" y2="394.0" stroke="#e8e8e8" stroke-width="0.45"/>
<line x1="379.8" y1="486.1" x2="380.5" y2="389.0" stroke="#e8e8e8" stroke-width="0.45"/>
<line x1="307.9" y1="494.3" x2="306.2" y2="392.9" stroke="#e8e8e8" stroke-width="0.45"/>
<line x1="387.8" y1="489.7" x2="388.8" y2="390.4" stroke="#e8e8e8" stroke-width="0.45"/>
<line x1="317.2" y1="491.8" x2="315.8" y2="391.8" stroke="#e8e8e8" stroke-width="0.45"/>
<line x1="395.9" y1="493.2" x2="397.2" y2="391.8" stroke="#e8e8e8" stroke-width="0.45"/>
<line x1="326.5" y1="489.2" x2="325.4" y2="390.7" stroke="#e8e8e8" stroke-width="0.45"/>
<line x1="403.9" y1="496.8" x2="405.6" y2="393.2" stroke="#e8e8e8" stroke-width="0.45"/>
<line x1="335.8" y1="486.7" x2="335.0" y2="389.6" stroke="#e8e8e8" stroke-width="0.45"/>
<line x1="411.9" y1="500.3" x2="413.9" y2="394.6" stroke="#e8e8e8" stroke-width="0.45"/>
<line x1="345.1" y1="484.1" x2="344.6" y2="388.5" stroke="#e8e8e8" stroke-width="0.45"/>
<line x1="419.9" y1="503.9" x2="422.3" y2="396.0" stroke="#e8e8e8" stroke-width="0.45"/>
<line x1="354.4" y1="481.6" x2="354.2" y2="387.4" stroke="#e8e8e8" stroke-width="0.45"/>
<line x1="428.0" y1="507.4" x2="430.6" y2="397.4" stroke="#e8e8e8" stroke-width="0.45"/>
<line x1="279.8" y1="491.4" x2="363.8" y2="469.7" stroke="#e8e8e8" stroke-width="0.45"/>
<line x1="363.8" y1="469.7" x2="436.3" y2="499.8" stroke="#e8e8e8" stroke-width="0.45"/>
<line x1="279.5" y1="480.9" x2="363.8" y2="460.4" stroke="#e8e8e8" stroke-width="0.45"/>
<line x1="363.8" y1="460.4" x2="436.6" y2="488.6" stroke="#e8e8e8" stroke-width="0.45"/>
<line x1="279.2" y1="470.3" x2="363.8" y2="451.2" stroke="#e8e8e8" stroke-width="0.45"/>
<line x1="363.8" y1="451.2" x2="436.9" y2="477.3" stroke="#e8e8e8" stroke-width="0.45"/>
<line x1="279.0" y1="459.7" x2="363.8" y2="441.9" stroke="#e8e8e8" stroke-width="0.45"/>
<line x1="363.8" y1="441.9" x2="437.2" y2="466.1" stroke="#e8e8e8" stroke-width="0.45"/>
<line x1="278.8" y1="449.1" x2="363.8" y2="432.6" stroke="#e8e8e8" stroke-width="0.45"/>
<line x1="363.8" y1="432.6" x2="437.5" y2="454.9" stroke="#e8e8e8" stroke-width="0.45"/>
<line x1="278.5" y1="438.6" x2="363.8" y2="423.4" stroke="#e8e8e8" stroke-width="0.45"/>
<line x1="363.8" y1="423.4" x2="437.8" y2="443.6" stroke="#e8e8e8" stroke-width="0.45"/>
<line x1="278.2" y1="428.0" x2="363.8" y2="414.1" stroke="#e8e8e8" stroke-width="0.45"/>
<line x1="363.8" y1="414.1" x2="438.1" y2="432.4" stroke="#e8e8e8" stroke-width="0.45"/>
<line x1="278.0" y1="417.4" x2="363.8" y2="404.8" stroke="#e8e8e8" stroke-width="0.45"/>
<line x1="363.8" y1="404.8" x2="438.4" y2="421.2" stroke="#e8e8e8" stroke-width="0.45"/>
<line x1="277.8" y1="406.8" x2="363.8" y2="395.5" stroke="#e8e8e8" stroke-width="0.45"/>
<line x1="363.8" y1="395.5" x2="438.7" y2="410.0" stroke="#e8e8e8" stroke-width="0.45"/>
<line x1="277.5" y1="396.2" x2="363.8" y2="386.2" stroke="#8a8a8a" stroke-width="0.65" stroke-dasharray="2,1.2"/>
<line x1="363.8" y1="386.2" x2="439.0" y2="398.8" stroke="#8a8a8a" stroke-width="0.65" stroke-dasharray="2,1.2"/>
<line x1="363.8" y1="479.0" x2="363.8" y2="386.2" stroke="#aaa" stroke-width="0.60"/>
<line x1="436.0" y1="511.0" x2="439.0" y2="398.8" stroke="#8a8a8a" stroke-width="0.70" stroke-dasharray="2.5,1.5"/>
<line x1="280.0" y1="502.0" x2="363.8" y2="479.0" stroke="#aaa" stroke-width="0.50"/>
<line x1="363.8" y1="479.0" x2="436.0" y2="511.0" stroke="#aaa" stroke-width="0.50"/>
<g clip-path="url(#cf)">
<polygon points="291.3,500.5 355.6,533.8 428.5,510.5 357.5,482.5" fill="#40ff40"/>
<g filter="url(#blur)">
<polygon points="291.0,500.5 320.0,492.0 358.0,484.5 372.0,488.5 366.0,495.0 345.0,501.0 320.0,505.0 300.0,506.0" fill="#ff1800"/>
<polygon points="330.0,489.0 358.0,484.0 385.0,491.0 375.0,493.0 350.0,490.0 335.0,492.0" fill="#ff8000"/>
<polygon points="300.0,506.0 320.0,505.0 345.0,501.0 370.0,496.0 385.0,493.0 400.0,497.0 380.0,500.0 350.0,505.0 320.0,509.0 305.0,510.0" fill="#ffc000"/>
<polygon points="350.0,493.0 375.0,494.0 403.0,497.0 405.0,500.0 380.0,499.0 355.0,500.0" fill="#ffee00"/>
<polygon points="308.0,509.0 330.0,507.0 355.0,504.0 368.0,500.0 412.0,500.0 412.0,503.0 380.0,504.0 350.0,508.0 325.0,511.0 312.0,512.0" fill="#40ff30"/>
<polygon points="353.0,502.0 366.0,500.5 377.0,503.0 373.0,509.5 356.0,509.5" fill="#ffe000"/>
<polygon points="357.0,503.5 365.0,502.5 373.0,504.5 370.0,508.0 360.0,508.0" fill="#ff5000"/>
<polygon points="399.6,502.5 410.0,502.0 414.0,505.0 404.0,506.0" fill="#ff2000"/>
<polygon points="316.0,510.5 324.0,509.5 331.0,511.0 328.0,514.0 318.0,514.0" fill="#ff1000"/>
<polygon points="353.0,505.0 380.0,502.5 405.0,503.0 421.0,507.0 418.0,512.0 390.0,512.0 360.0,513.0" fill="#20e0ff"/>
<polygon points="320.0,514.0 340.0,511.0 360.0,511.0 390.0,511.5 429.0,511.0 420.0,518.0 395.0,523.0 365.0,525.0 335.0,522.0" fill="#1050ff"/>
<polygon points="364.0,514.0 375.0,513.0 385.0,514.5 380.0,518.5 367.0,518.5" fill="#6000e0"/>
<polygon points="327.0,513.0 338.0,511.5 346.0,513.0 343.0,517.5 331.0,518.0" fill="#6000e0"/>
<polygon points="321.0,519.0 340.0,518.0 354.7,519.0 352.0,526.0 335.0,526.0 323.0,523.0" fill="#60ff30"/>
<polygon points="350.0,524.0 370.0,521.0 400.0,518.0 410.0,520.0 390.0,528.0 365.0,533.0 355.0,534.0" fill="#1080ff"/>
<polygon points="344.7,528.0 352.0,527.0 355.0,533.0 348.0,535.0" fill="#00d0ff"/>
</g></g>
<line x1="277.5" y1="396.2" x2="280.0" y2="502.0" stroke="#555" stroke-width="0.60"/>
<line x1="280.0" y1="502.0" x2="350.0" y2="538.0" stroke="#555" stroke-width="0.60"/>
<line x1="350.0" y1="538.0" x2="355.1" y2="534.8" stroke="#555" stroke-width="0.60"/>
<line x1="355.1" y1="534.8" x2="429.5" y2="511.3" stroke="#777" stroke-width="0.45"/>
<line x1="429.5" y1="511.3" x2="436.0" y2="511.0" stroke="#888" stroke-width="0.45"/>
<line x1="277.9" y1="415.0" x2="279.7" y2="415.0" stroke="#555" stroke-width="0.50"/>
<text x="276.4" y="417.6" font-size="6.40" text-anchor="end">0.24</text>
<line x1="278.4" y1="434.6" x2="280.2" y2="434.6" stroke="#555" stroke-width="0.50"/>
<text x="276.9" y="437.2" font-size="6.40" text-anchor="end">0.21</text>
<line x1="278.9" y1="454.2" x2="280.7" y2="454.2" stroke="#555" stroke-width="0.50"/>
<text x="277.4" y="456.8" font-size="6.40" text-anchor="end">0.18</text>
<line x1="279.3" y1="473.9" x2="281.1" y2="473.9" stroke="#555" stroke-width="0.50"/>
<text x="277.8" y="476.5" font-size="6.40" text-anchor="end">0.15</text>
<line x1="279.8" y1="493.5" x2="281.6" y2="493.5" stroke="#555" stroke-width="0.50"/>
<text x="278.3" y="496.1" font-size="6.40" text-anchor="end">0.12</text>
<line x1="283.5" y1="503.8" x2="282.9" y2="505.0" stroke="#555" stroke-width="0.40"/>
<text x="0.0" y="0.0" font-size="5.40" text-anchor="middle" transform="translate(278.3 507.1) rotate(27.2)">1</text>
<line x1="290.5" y1="507.4" x2="289.9" y2="508.6" stroke="#555" stroke-width="0.40"/>
<text x="0.0" y="0.0" font-size="5.40" text-anchor="middle" transform="translate(285.3 510.7) rotate(27.2)">2</text>
<line x1="297.5" y1="511.0" x2="296.9" y2="512.2" stroke="#555" stroke-width="0.40"/>
<text x="0.0" y="0.0" font-size="5.40" text-anchor="middle" transform="translate(292.3 514.3) rotate(27.2)">3</text>
<line x1="304.5" y1="514.6" x2="303.9" y2="515.8" stroke="#555" stroke-width="0.40"/>
<text x="0.0" y="0.0" font-size="5.40" text-anchor="middle" transform="translate(299.3 517.9) rotate(27.2)">4</text>
<line x1="311.5" y1="518.2" x2="310.9" y2="519.4" stroke="#555" stroke-width="0.40"/>
<text x="0.0" y="0.0" font-size="5.40" text-anchor="middle" transform="translate(306.3 521.5) rotate(27.2)">5</text>
<line x1="318.5" y1="521.8" x2="317.9" y2="523.0" stroke="#555" stroke-width="0.40"/>
<text x="0.0" y="0.0" font-size="5.40" text-anchor="middle" transform="translate(313.3 525.1) rotate(27.2)">6</text>
<line x1="325.5" y1="525.4" x2="324.9" y2="526.6" stroke="#555" stroke-width="0.40"/>
<text x="0.0" y="0.0" font-size="5.40" text-anchor="middle" transform="translate(320.3 528.7) rotate(27.2)">7</text>
<line x1="332.5" y1="529.0" x2="331.9" y2="530.2" stroke="#555" stroke-width="0.40"/>
<text x="0.0" y="0.0" font-size="5.40" text-anchor="middle" transform="translate(327.3 532.3) rotate(27.2)">8</text>
<line x1="339.5" y1="532.6" x2="338.9" y2="533.8" stroke="#555" stroke-width="0.40"/>
<text x="0.0" y="0.0" font-size="5.40" text-anchor="middle" transform="translate(334.3 535.9) rotate(27.2)">9</text>
<line x1="346.5" y1="536.2" x2="345.9" y2="537.4" stroke="#555" stroke-width="0.40"/>
<text x="0.0" y="0.0" font-size="5.40" text-anchor="middle" transform="translate(341.3 539.5) rotate(27.2)">10</text>
<text x="0.0" y="0.0" font-size="5.80" text-anchor="middle" transform="translate(363.2 538.5) rotate(-80)">20</text>
<text x="0.0" y="0.0" font-size="5.80" text-anchor="middle" transform="translate(408.7 522.4) rotate(-80)">50</text>
<text x="0.0" y="0.0" font-size="5.80" text-anchor="middle" transform="translate(436.9 513.9) rotate(-80)">70</text>
<text x="0.0" y="0.0" font-size="7.20" text-anchor="middle" transform="translate(297.5 525.2) rotate(28.9) skewX(-12)" dy="2.4" textLength="44.5" lengthAdjust="spacingAndGlyphs">Storage days (d)</text>
<text x="0.0" y="0.0" font-size="8.20" text-anchor="middle" transform="translate(409.0 528.5) skewY(-19.1)" dy="2.5" textLength="64.0" lengthAdjust="spacingAndGlyphs">Oxygen content (%)</text>
<text x="256.8" y="455.0" font-size="10.50" text-anchor="middle" transform="rotate(90 256.8 455.0)" textLength="36.4" lengthAdjust="spacingAndGlyphs">Rebound</text>
<polygon points="303.0,428.0 306.0,420.0 309.0,416.0 318.0,415.0 331.0,414.0 344.0,416.0 350.0,418.0 357.0,417.0 364.0,420.0 371.6,418.6 379.0,425.0 387.0,427.4 395.0,434.6 398.0,438.0 402.0,436.0 408.0,429.0 413.0,422.6 415.0,427.0 417.0,441.0 419.0,453.0 422.0,463.0 430.0,470.0 424.0,472.0 410.0,476.0 396.0,478.0 380.0,477.0 370.0,478.0 358.0,483.0 351.0,489.0 348.0,480.0 340.0,485.0 328.0,480.0 323.0,471.0 316.0,457.0 308.0,456.0" fill="url(#g37)"/>
<polygon points="286.0,398.0 290.0,398.6 296.0,402.0 302.0,407.0 307.0,413.0 309.0,416.0 306.0,420.0 303.0,428.0 298.0,430.0 293.0,433.0 290.0,420.0" fill="url(#g38)"/>
<polygon points="310.0,445.0 314.0,438.0 318.0,432.0 322.0,429.0 326.0,428.5 330.0,430.0 334.0,435.0 338.0,443.0 341.0,452.0 343.0,458.0 330.0,460.0 318.0,460.0 310.0,455.0" fill="url(#g39)"/>
<polygon points="345.0,445.0 350.0,438.0 356.0,434.0 361.6,433.0 367.0,434.0 373.0,438.0 380.0,444.0 385.0,450.0 370.0,454.0 355.0,454.0" fill="url(#g40)"/>
<circle cx="286.0" cy="398.0" r="1.25" fill="#f01010"/>
<circle cx="293.6" cy="433.0" r="1.25" fill="#f01010"/>
<circle cx="315.0" cy="438.0" r="1.25" fill="#f01010"/>
<circle cx="308.0" cy="456.0" r="1.25" fill="#f01010"/>
<circle cx="330.6" cy="414.0" r="1.25" fill="#f01010"/>
<circle cx="338.0" cy="426.0" r="1.25" fill="#f01010"/>
<circle cx="345.6" cy="432.4" r="1.25" fill="#f01010"/>
<circle cx="357.0" cy="417.6" r="1.25" fill="#f01010"/>
<circle cx="361.6" cy="433.6" r="1.25" fill="#f01010"/>
<circle cx="339.6" cy="454.6" r="1.25" fill="#f01010"/>
<circle cx="331.0" cy="465.0" r="1.25" fill="#f01010"/>
<circle cx="323.0" cy="471.0" r="1.25" fill="#f01010"/>
<circle cx="357.0" cy="482.6" r="1.25" fill="#f01010"/>
<circle cx="371.6" cy="418.6" r="1.25" fill="#f01010"/>
<circle cx="379.0" cy="425.0" r="1.25" fill="#f01010"/>
<circle cx="387.0" cy="427.4" r="1.25" fill="#f01010"/>
<circle cx="395.0" cy="434.6" r="1.25" fill="#f01010"/>
<circle cx="413.0" cy="422.6" r="1.25" fill="#f01010"/>
<circle cx="430.0" cy="470.0" r="1.25" fill="#f01010"/>
<circle cx="396.0" cy="478.0" r="1.25" fill="#f01010"/>
<circle cx="370.0" cy="456.0" r="1.25" fill="#f01010"/>
<circle cx="387.0" cy="463.8" r="1.25" fill="#f01010"/>
<text x="298.8" y="402.0" font-size="7.20" text-anchor="start">(f)</text>
<rect x="445.00" y="384.60" width="8.75" height="158.90" fill="url(#g41)"/>
<line x1="454.6" y1="384.6" x2="455.9" y2="384.6" stroke="#666" stroke-width="0.50"/>
<text x="458.0" y="386.5" font-size="5.60" text-anchor="start">0.2620</text>
<line x1="454.6" y1="400.5" x2="455.9" y2="400.5" stroke="#666" stroke-width="0.50"/>
<text x="458.0" y="402.4" font-size="5.60" text-anchor="start">0.2506</text>
<line x1="454.6" y1="416.4" x2="455.9" y2="416.4" stroke="#666" stroke-width="0.50"/>
<text x="458.0" y="418.3" font-size="5.60" text-anchor="start">0.2391</text>
<line x1="454.6" y1="432.3" x2="455.9" y2="432.3" stroke="#666" stroke-width="0.50"/>
<text x="458.0" y="434.2" font-size="5.60" text-anchor="start">0.2277</text>
<line x1="454.6" y1="448.2" x2="455.9" y2="448.2" stroke="#666" stroke-width="0.50"/>
<text x="458.0" y="450.1" font-size="5.60" text-anchor="start">0.2162</text>
<line x1="454.6" y1="464.1" x2="455.9" y2="464.1" stroke="#666" stroke-width="0.50"/>
<text x="458.0" y="465.9" font-size="5.60" text-anchor="start">0.2048</text>
<line x1="454.6" y1="479.9" x2="455.9" y2="479.9" stroke="#666" stroke-width="0.50"/>
<text x="458.0" y="481.8" font-size="5.60" text-anchor="start">0.1933</text>
<line x1="454.6" y1="495.8" x2="455.9" y2="495.8" stroke="#666" stroke-width="0.50"/>
<text x="458.0" y="497.7" font-size="5.60" text-anchor="start">0.1819</text>
<line x1="454.6" y1="511.7" x2="455.9" y2="511.7" stroke="#666" stroke-width="0.50"/>
<text x="458.0" y="513.6" font-size="5.60" text-anchor="start">0.1704</text>
<line x1="454.6" y1="527.6" x2="455.9" y2="527.6" stroke="#666" stroke-width="0.50"/>
<text x="458.0" y="529.5" font-size="5.60" text-anchor="start">0.1590</text>
<line x1="454.6" y1="543.5" x2="455.9" y2="543.5" stroke="#666" stroke-width="0.50"/>
<text x="458.0" y="545.4" font-size="5.60" text-anchor="start">0.1475</text>
</svg></body></html>
